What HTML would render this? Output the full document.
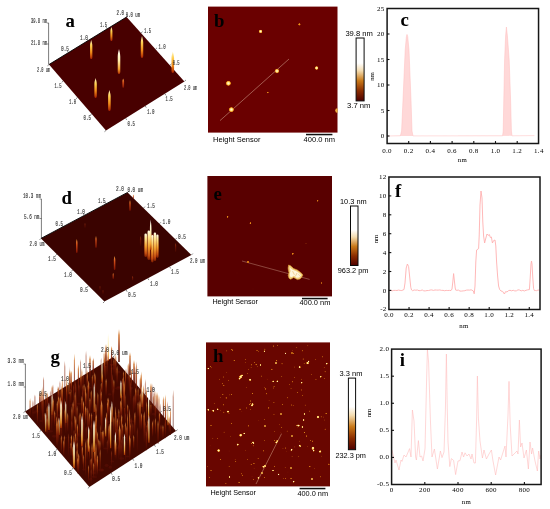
<!DOCTYPE html>
<html lang="en"><head><meta charset="utf-8"><title>AFM height images and line profiles</title>
<style>
html,body{margin:0;padding:0;background:#fff;}
body{width:550px;height:509px;overflow:hidden;}
svg{display:block;}
.m{font-family:"Liberation Mono","DejaVu Sans Mono",monospace;}
.s{font-family:"Liberation Sans","DejaVu Sans",sans-serif;fill:#000;}
.r{font-family:"Liberation Serif","DejaVu Serif",serif;fill:#000;}
.b{font-family:"Liberation Serif","DejaVu Serif",serif;font-weight:bold;fill:#000;}
</style></head><body>
<svg width="550" height="509" viewBox="0 0 550 509">
<defs>
<linearGradient id="sp" x1="0" y1="0" x2="0" y2="1"><stop offset="0" stop-color="#fff6c8"/><stop offset="0.3" stop-color="#ffd050"/><stop offset="0.65" stop-color="#f08a18"/><stop offset="1" stop-color="#a82000"/></linearGradient>
<linearGradient id="sr" x1="0" y1="0" x2="0" y2="1"><stop offset="0" stop-color="#eea040"/><stop offset="0.4" stop-color="#d04c18"/><stop offset="1" stop-color="#7c1000"/></linearGradient>
<linearGradient id="sw" x1="0" y1="0" x2="0" y2="1"><stop offset="0" stop-color="#ffffff"/><stop offset="0.45" stop-color="#fff0b0"/><stop offset="0.8" stop-color="#f0a030"/><stop offset="1" stop-color="#b03000"/></linearGradient>
<linearGradient id="sg" x1="0" y1="0" x2="0" y2="1"><stop offset="0" stop-color="#e8a860"/><stop offset="0.25" stop-color="#c8641e"/><stop offset="0.55" stop-color="#8a2206"/><stop offset="1" stop-color="#480800"/></linearGradient>
<linearGradient id="sd" x1="0" y1="0" x2="0" y2="1"><stop offset="0" stop-color="#b04a20"/><stop offset="0.45" stop-color="#7c1a06"/><stop offset="1" stop-color="#480800"/></linearGradient>
<linearGradient id="sc" x1="0" y1="0" x2="0" y2="1"><stop offset="0" stop-color="#fffbe8"/><stop offset="0.22" stop-color="#ffe48c"/><stop offset="0.55" stop-color="#f0a030"/><stop offset="0.85" stop-color="#c44c10"/><stop offset="1" stop-color="#7a1c00"/></linearGradient>
<linearGradient id="cb" x1="0" y1="0" x2="0" y2="1"><stop offset="0" stop-color="#ffffff"/><stop offset="0.40" stop-color="#ffffff"/><stop offset="0.52" stop-color="#f4dcb0"/><stop offset="0.68" stop-color="#c87818"/><stop offset="0.84" stop-color="#8a2c00"/><stop offset="1" stop-color="#4e0000"/></linearGradient>
<radialGradient id="dt"><stop offset="0" stop-color="#fffbe0"/><stop offset="0.45" stop-color="#ffe080"/><stop offset="0.8" stop-color="#e08a18"/><stop offset="1" stop-color="#b04000" stop-opacity="0.2"/></radialGradient>
<radialGradient id="do"><stop offset="0" stop-color="#f0a020"/><stop offset="0.7" stop-color="#d07010"/><stop offset="1" stop-color="#a03000" stop-opacity="0.1"/></radialGradient>
</defs>
<rect width="550" height="509" fill="#fff"/>
<g id="pa">
<path d="M48.6 23V64.3" stroke="#444" stroke-width="0.7"/>
<path d="M46.8 23h2M46.8 44h2" stroke="#444" stroke-width="0.6"/>
<polygon points="49,64.5 126.6,17 184.4,81.4 106,130.4" fill="#480000"/>
<path d="M49 64.5L126.6 17" stroke="#000" stroke-width="0.9"/>
<path d="M111.4 27 C111.75 28.4 112.41 29.52 112.41 31.2 L112.41 39.38 Q112.41 41 111.4 41 Q110.39 41 110.39 39.38 L110.39 31.2 C110.39 29.52 111.05 28.4 111.4 27 Z" fill="url(#sp)"/>
<path d="M91.2 40 C91.6 41.9 92.35 43.42 92.35 45.7 L92.35 57.16 Q92.35 59 91.2 59 Q90.05 59 90.05 57.16 L90.05 45.7 C90.05 43.42 90.8 41.9 91.2 40 Z" fill="url(#sp)"/>
<path d="M142 36 C142.43 38.2 143.22 39.96 143.22 42.6 L143.22 56.06 Q143.22 58 142 58 Q140.78 58 140.78 56.06 L140.78 42.6 C140.78 39.96 141.57 38.2 142 36 Z" fill="url(#sp)"/>
<path d="M119 49 C119.45 51.5 120.28 53.5 120.28 56.5 L120.28 71.95 Q120.28 74 119 74 Q117.72 74 117.72 71.95 L117.72 56.5 C117.72 53.5 118.55 51.5 119 49 Z" fill="url(#sw)"/>
<path d="M172.8 51.5 C173.25 53.65 174.08 55.37 174.08 57.95 L174.08 70.95 Q174.08 73 172.8 73 Q171.52 73 171.52 70.95 L171.52 57.95 C171.52 55.37 172.35 53.65 172.8 51.5 Z" fill="url(#sp)"/>
<path d="M95.6 78 C96.03 80 96.81 81.6 96.81 84 L96.81 96.06 Q96.81 98 95.6 98 Q94.38 98 94.38 96.06 L94.38 84 C94.38 81.6 95.17 80 95.6 78 Z" fill="url(#sp)"/>
<path d="M123.2 78.5 C123.51 79.45 124.08 80.21 124.08 81.35 L124.08 86.6 Q124.08 88 123.2 88 Q122.32 88 122.32 86.6 L122.32 81.35 C122.32 80.21 122.89 79.45 123.2 78.5 Z" fill="url(#sr)"/>
<path d="M109.4 90 C109.85 92.1 110.68 93.78 110.68 96.3 L110.68 108.95 Q110.68 111 109.4 111 Q108.12 111 108.12 108.95 L108.12 96.3 C108.12 93.78 108.95 92.1 109.4 90 Z" fill="url(#sp)"/>
<path d="M68.4 52.62l-1.04 -1.71M87.8 40.75l-1.04 -1.71M107.2 28.88l-1.04 -1.71" stroke="#333" stroke-width="0.6" fill="none"/>
<path d="M126.6 17l1.49 -1.34M141.05 33.1l1.49 -1.34M155.5 49.2l1.49 -1.34M169.95 65.3l1.49 -1.34M184.4 81.4l1.49 -1.34" stroke="#333" stroke-width="0.6" fill="none"/>
<path d="M49 64.5l-1.51 1.31M63.25 80.97l-1.51 1.31M77.5 97.45l-1.51 1.31M91.75 113.93l-1.51 1.31M106 130.4l-1.51 1.31" stroke="#333" stroke-width="0.6" fill="none"/>
<path d="M125.6 118.15l1.06 1.7M145.2 105.9l1.06 1.7M164.8 93.65l1.06 1.7" stroke="#333" stroke-width="0.6" fill="none"/>
<text class="m" x="31" y="22.68" font-size="7.2" textLength="16" lengthAdjust="spacingAndGlyphs" fill="#2a2a2a" stroke="#2a2a2a" stroke-width="0.12">39.8 nm</text>
<text class="m" x="31" y="44.68" font-size="7.2" textLength="16" lengthAdjust="spacingAndGlyphs" fill="#2a2a2a" stroke="#2a2a2a" stroke-width="0.12">21.8 nm</text>
<text class="m" x="37" y="72.38" font-size="7.2" textLength="13" lengthAdjust="spacingAndGlyphs" fill="#2a2a2a" stroke="#2a2a2a" stroke-width="0.12">2.0 um</text>
<text class="m" x="54.5" y="88.38" font-size="7.2" textLength="7" lengthAdjust="spacingAndGlyphs" fill="#2a2a2a" stroke="#2a2a2a" stroke-width="0.12">1.5</text>
<text class="m" x="69" y="104.38" font-size="7.2" textLength="7" lengthAdjust="spacingAndGlyphs" fill="#2a2a2a" stroke="#2a2a2a" stroke-width="0.12">1.0</text>
<text class="m" x="83.6" y="120.38" font-size="7.2" textLength="7.4" lengthAdjust="spacingAndGlyphs" fill="#2a2a2a" stroke="#2a2a2a" stroke-width="0.12">0.5</text>
<text class="m" x="127.6" y="125.98" font-size="7.2" textLength="7.4" lengthAdjust="spacingAndGlyphs" fill="#2a2a2a" stroke="#2a2a2a" stroke-width="0.12">0.5</text>
<text class="m" x="147" y="114.38" font-size="7.2" textLength="7.5" lengthAdjust="spacingAndGlyphs" fill="#2a2a2a" stroke="#2a2a2a" stroke-width="0.12">1.0</text>
<text class="m" x="165.5" y="101.38" font-size="7.2" textLength="7.2" lengthAdjust="spacingAndGlyphs" fill="#2a2a2a" stroke="#2a2a2a" stroke-width="0.12">1.5</text>
<text class="m" x="184" y="89.98" font-size="7.2" textLength="13" lengthAdjust="spacingAndGlyphs" fill="#2a2a2a" stroke="#2a2a2a" stroke-width="0.12">2.0 um</text>
<text class="m" x="61" y="51.38" font-size="7.2" textLength="8" lengthAdjust="spacingAndGlyphs" fill="#2a2a2a" stroke="#2a2a2a" stroke-width="0.12">0.5</text>
<text class="m" x="80" y="39.98" font-size="7.2" textLength="8" lengthAdjust="spacingAndGlyphs" fill="#2a2a2a" stroke="#2a2a2a" stroke-width="0.12">1.0</text>
<text class="m" x="100" y="27.38" font-size="7.2" textLength="7" lengthAdjust="spacingAndGlyphs" fill="#2a2a2a" stroke="#2a2a2a" stroke-width="0.12">1.5</text>
<text class="m" x="116.4" y="15.38" font-size="7.2" textLength="7.6" lengthAdjust="spacingAndGlyphs" fill="#2a2a2a" stroke="#2a2a2a" stroke-width="0.12">2.0</text>
<text class="m" x="125.8" y="16.78" font-size="7.2" textLength="14.2" lengthAdjust="spacingAndGlyphs" fill="#2a2a2a" stroke="#2a2a2a" stroke-width="0.12">0.0 um</text>
<text class="m" x="144" y="32.78" font-size="7.2" textLength="7" lengthAdjust="spacingAndGlyphs" fill="#2a2a2a" stroke="#2a2a2a" stroke-width="0.12">1.5</text>
<text class="m" x="158.4" y="49.38" font-size="7.2" textLength="7.2" lengthAdjust="spacingAndGlyphs" fill="#2a2a2a" stroke="#2a2a2a" stroke-width="0.12">1.0</text>
<text class="m" x="172.8" y="65.38" font-size="7.2" textLength="6.8" lengthAdjust="spacingAndGlyphs" fill="#2a2a2a" stroke="#2a2a2a" stroke-width="0.12">0.5</text>
<text class="b" x="65.5" y="27.3" font-size="18.8">a</text>
</g>
<g id="pb">
<rect x="208" y="6.6" width="129.5" height="126" fill="#6a0000"/>
<path d="M220 120.6L289 59" stroke="#e8c8b0" stroke-width="0.5" opacity="0.9"/>
<circle cx="260.6" cy="31.4" r="1.9" fill="url(#dt)"/>
<circle cx="299.4" cy="24.4" r="1.4" fill="url(#do)"/>
<circle cx="277" cy="71" r="2.4" fill="url(#dt)"/>
<circle cx="228.4" cy="83.3" r="2.7" fill="url(#dt)"/>
<circle cx="231.4" cy="109.6" r="2.7" fill="url(#dt)"/>
<circle cx="267.8" cy="92.6" r="1" fill="url(#do)"/>
<circle cx="316.6" cy="68" r="2" fill="url(#dt)"/>
<path d="M337.5 108.3a2.2 2.2 0 0 0 0 4.6z" fill="#f0b040"/>
<text class="s" x="213" y="141.6" font-size="7.4" textLength="47.4" lengthAdjust="spacingAndGlyphs">Height Sensor</text>
<rect x="306" y="133.8" width="26.4" height="1.5" fill="#111"/>
<text class="s" x="303.6" y="142" font-size="7.2" textLength="31.4" lengthAdjust="spacingAndGlyphs">400.0 nm</text>
<rect x="356.1" y="38" width="8" height="62.9" fill="url(#cb)" stroke="#0a0a0a" stroke-width="1"/>
<text class="s" x="345.4" y="36.1" font-size="7" textLength="27.5" lengthAdjust="spacingAndGlyphs">39.8 nm</text>
<text class="s" x="347" y="107.6" font-size="7" textLength="23.4" lengthAdjust="spacingAndGlyphs">3.7 nm</text>
<text class="b" x="214" y="27" font-size="18.8">b</text>
</g>
<g id="pc">
<path d="M387 136 L400.4 135.8 L401.6 131 L403 100 L405.2 50 L406.4 36.5 L407 34.4 L407.7 36.5 L409 50 L411 100 L412 131 L413 135.9 L502.6 135.8 L503.2 131 L503.8 100 L504.6 60 L505.6 36 L506.4 27 L507.4 36 L509.2 60 L510.6 100 L511.4 131 L512 135.8 L534.4 135.6" fill="#ffd8d8" stroke="#ffbcbc" stroke-width="0.5" stroke-linejoin="round"/>
<rect x="387.1" y="8.5" width="151.45" height="135" fill="none" stroke="#161616" stroke-width="1.5"/>
<path d="M387.1 136h2.4" stroke="#111" stroke-width="1.1"/>
<text class="r" x="384.6" y="138.31" font-size="7" letter-spacing="0.3" text-anchor="end">0</text>
<path d="M387.1 110.5h2.4" stroke="#111" stroke-width="1.1"/>
<text class="r" x="384.6" y="112.81" font-size="7" letter-spacing="0.3" text-anchor="end">5</text>
<path d="M387.1 85h2.4" stroke="#111" stroke-width="1.1"/>
<text class="r" x="384.6" y="87.31" font-size="7" letter-spacing="0.3" text-anchor="end">10</text>
<path d="M387.1 59.5h2.4" stroke="#111" stroke-width="1.1"/>
<text class="r" x="384.6" y="61.81" font-size="7" letter-spacing="0.3" text-anchor="end">15</text>
<path d="M387.1 34h2.4" stroke="#111" stroke-width="1.1"/>
<text class="r" x="384.6" y="36.31" font-size="7" letter-spacing="0.3" text-anchor="end">20</text>
<text class="r" x="384.6" y="10.81" font-size="7" letter-spacing="0.3" text-anchor="end">25</text>
<text class="r" x="387" y="152.51" font-size="7" letter-spacing="0.3" text-anchor="middle">0.0</text>
<path d="M408.7 143.5v-2.4" stroke="#111" stroke-width="1.1"/>
<text class="r" x="408.7" y="152.51" font-size="7" letter-spacing="0.3" text-anchor="middle">0.2</text>
<path d="M430.4 143.5v-2.4" stroke="#111" stroke-width="1.1"/>
<text class="r" x="430.4" y="152.51" font-size="7" letter-spacing="0.3" text-anchor="middle">0.4</text>
<path d="M452.1 143.5v-2.4" stroke="#111" stroke-width="1.1"/>
<text class="r" x="452.1" y="152.51" font-size="7" letter-spacing="0.3" text-anchor="middle">0.6</text>
<path d="M473.8 143.5v-2.4" stroke="#111" stroke-width="1.1"/>
<text class="r" x="473.8" y="152.51" font-size="7" letter-spacing="0.3" text-anchor="middle">0.8</text>
<path d="M495.5 143.5v-2.4" stroke="#111" stroke-width="1.1"/>
<text class="r" x="495.5" y="152.51" font-size="7" letter-spacing="0.3" text-anchor="middle">1.0</text>
<path d="M517.2 143.5v-2.4" stroke="#111" stroke-width="1.1"/>
<text class="r" x="517.2" y="152.51" font-size="7" letter-spacing="0.3" text-anchor="middle">1.2</text>
<text class="r" x="538.9" y="152.51" font-size="7" letter-spacing="0.3" text-anchor="middle">1.4</text>
<text class="r" x="462.4" y="161.84" font-size="6.8" letter-spacing="0.3" text-anchor="middle">nm</text>
<text class="r" font-size="6.8" text-anchor="middle" transform="translate(373.8 76.5) rotate(-90)">nm</text>
<text class="b" x="400.5" y="26.2" font-size="18.8">c</text>
</g>
<g id="pd">
<path d="M41.4 199V238.2" stroke="#444" stroke-width="0.7"/>
<path d="M39.6 199h2M39.6 218.5h2" stroke="#444" stroke-width="0.6"/>
<polygon points="41,238.4 127.6,192.4 191.4,255 104.4,301.6" fill="#3a0300"/>
<path d="M41 238.4L127.6 192.4" stroke="#000" stroke-width="0.9"/>
<path d="M130 200 C130.25 201.1 130.72 201.98 130.72 203.3 L130.72 209.85 Q130.72 211 130 211 Q129.28 211 129.28 209.85 L129.28 203.3 C129.28 201.98 129.75 201.1 130 200 Z" fill="url(#sr)" opacity="0.9"/>
<path d="M133.4 194.5 C133.57 194.9 133.9 195.22 133.9 195.7 L133.9 197.9 Q133.9 198.5 133.4 198.5 Q132.9 198.5 132.9 197.9 L132.9 195.7 C132.9 195.22 133.23 194.9 133.4 194.5 Z" fill="url(#sr)" opacity="0.8"/>
<path d="M85 223 C85.19 223.5 85.55 223.9 85.55 224.5 L85.55 227.25 Q85.55 228 85 228 Q84.45 228 84.45 227.25 L84.45 224.5 C84.45 223.9 84.81 223.5 85 223 Z" fill="url(#sd)" opacity="0.6"/>
<path d="M76.8 239 C77.07 240.4 77.57 241.52 77.57 243.2 L77.57 251.76 Q77.57 253 76.8 253 Q76.03 253 76.03 251.76 L76.03 243.2 C76.03 241.52 76.53 240.4 76.8 239 Z" fill="url(#sr)"/>
<path d="M96 236 C96.25 237.2 96.72 238.16 96.72 239.6 L96.72 246.85 Q96.72 248 96 248 Q95.28 248 95.28 246.85 L95.28 239.6 C95.28 238.16 95.75 237.2 96 236 Z" fill="url(#sr)" opacity="0.9"/>
<path d="M140.6 236 C140.83 237 141.26 237.8 141.26 239 L141.26 244.94 Q141.26 246 140.6 246 Q139.94 246 139.94 244.94 L139.94 239 C139.94 237.8 140.37 237 140.6 236 Z" fill="url(#sd)" opacity="0.6"/>
<path d="M175.6 243 C175.81 243.9 176.21 244.62 176.21 245.7 L176.21 251.03 Q176.21 252 175.6 252 Q174.99 252 174.99 251.03 L174.99 245.7 C174.99 244.62 175.39 243.9 175.6 243 Z" fill="url(#sd)" opacity="0.7"/>
<path d="M114.6 256 C114.87 257.4 115.37 258.52 115.37 260.2 L115.37 268.76 Q115.37 270 114.6 270 Q113.83 270 113.83 268.76 L113.83 260.2 C113.83 258.52 114.33 257.4 114.6 256 Z" fill="url(#sr)"/>
<path d="M113.2 273 C113.41 273.6 113.81 274.08 113.81 274.8 L113.81 278.1 Q113.81 279 113.2 279 Q112.59 279 112.59 278.1 L112.59 274.8 C112.59 274.08 112.99 273.6 113.2 273 Z" fill="url(#sr)" opacity="0.8"/>
<path d="M132.6 276 C132.79 276.45 133.15 276.81 133.15 277.35 L133.15 279.82 Q133.15 280.5 132.6 280.5 Q132.05 280.5 132.05 279.82 L132.05 277.35 C132.05 276.81 132.41 276.45 132.6 276 Z" fill="url(#sd)" opacity="0.8"/>
<path d="M100 286 C100.17 286.4 100.5 286.72 100.5 287.2 L100.5 289.4 Q100.5 290 100 290 Q99.5 290 99.5 289.4 L99.5 287.2 C99.5 286.72 99.83 286.4 100 286 Z" fill="url(#sd)" opacity="0.6"/>
<path d="M103 290 C103.17 290.4 103.5 290.72 103.5 291.2 L103.5 293.4 Q103.5 294 103 294 Q102.5 294 102.5 293.4 L102.5 291.2 C102.5 290.72 102.83 290.4 103 290 Z" fill="url(#sd)" opacity="0.6"/>
<ellipse cx="151.4" cy="247" rx="7.6" ry="13" fill="#8a1c00" opacity="0.55"/>
<path d="M144.45 255.75V234.75Q144.45 233.5 145.7 233.5Q146.95 233.5 146.95 234.75V255.75Q146.95 257 145.7 257Q144.45 257 144.45 255.75Z" fill="url(#sc)"/>
<path d="M147.55 258.75V231.75Q147.55 230.5 148.8 230.5Q150.05 230.5 150.05 231.75V258.75Q150.05 260 148.8 260Q147.55 260 147.55 258.75Z" fill="url(#sc)"/>
<path d="M151.15 261.35V236.15Q151.15 235 152.3 235Q153.45 235 153.45 236.15V261.35Q153.45 262.5 152.3 262.5Q151.15 262.5 151.15 261.35Z" fill="url(#sc)"/>
<path d="M153.7 259.8V233.7Q153.7 232.5 154.9 232.5Q156.1 232.5 156.1 233.7V259.8Q156.1 261 154.9 261Q153.7 261 153.7 259.8Z" fill="url(#sc)"/>
<path d="M156.25 256.85V235.65Q156.25 234.5 157.4 234.5Q158.55 234.5 158.55 235.65V256.85Q158.55 258 157.4 258Q156.25 258 156.25 256.85Z" fill="url(#sc)"/>
<path d="M150.7 219.4 C150.97 222.46 151.48 224.91 151.48 228.58 L151.48 248.76 Q151.48 250 150.7 250 Q149.92 250 149.92 248.76 L149.92 228.58 C149.92 224.91 150.43 222.46 150.7 219.4 Z" fill="url(#sw)"/>
<path d="M62.65 226.9l-0.94 -1.77M84.3 215.4l-0.94 -1.77M105.95 203.9l-0.94 -1.77" stroke="#333" stroke-width="0.6" fill="none"/>
<path d="M127.6 192.4l1.4 -1.43M143.55 208.05l1.4 -1.43M159.5 223.7l1.4 -1.43M175.45 239.35l1.4 -1.43M191.4 255l1.4 -1.43" stroke="#333" stroke-width="0.6" fill="none"/>
<path d="M41 238.4l-1.41 1.42M56.85 254.2l-1.41 1.42M72.7 270l-1.41 1.42M88.55 285.8l-1.41 1.42M104.4 301.6l-1.41 1.42" stroke="#333" stroke-width="0.6" fill="none"/>
<path d="M126.15 289.95l0.94 1.76M147.9 278.3l0.94 1.76M169.65 266.65l0.94 1.76" stroke="#333" stroke-width="0.6" fill="none"/>
<text class="m" x="23" y="198.38" font-size="7.2" textLength="18" lengthAdjust="spacingAndGlyphs" fill="#2a2a2a" stroke="#2a2a2a" stroke-width="0.12">10.3 nm</text>
<text class="m" x="24" y="218.78" font-size="7.2" textLength="15.4" lengthAdjust="spacingAndGlyphs" fill="#2a2a2a" stroke="#2a2a2a" stroke-width="0.12">5.6 nm</text>
<text class="m" x="29.6" y="245.98" font-size="7.2" textLength="14.8" lengthAdjust="spacingAndGlyphs" fill="#2a2a2a" stroke="#2a2a2a" stroke-width="0.12">2.0 um</text>
<text class="m" x="48" y="261.38" font-size="7.2" textLength="8" lengthAdjust="spacingAndGlyphs" fill="#2a2a2a" stroke="#2a2a2a" stroke-width="0.12">1.5</text>
<text class="m" x="64" y="276.78" font-size="7.2" textLength="8" lengthAdjust="spacingAndGlyphs" fill="#2a2a2a" stroke="#2a2a2a" stroke-width="0.12">1.0</text>
<text class="m" x="80" y="292.38" font-size="7.2" textLength="8" lengthAdjust="spacingAndGlyphs" fill="#2a2a2a" stroke="#2a2a2a" stroke-width="0.12">0.5</text>
<text class="m" x="128" y="297.38" font-size="7.2" textLength="8" lengthAdjust="spacingAndGlyphs" fill="#2a2a2a" stroke="#2a2a2a" stroke-width="0.12">0.5</text>
<text class="m" x="150" y="286.38" font-size="7.2" textLength="8" lengthAdjust="spacingAndGlyphs" fill="#2a2a2a" stroke="#2a2a2a" stroke-width="0.12">1.0</text>
<text class="m" x="171" y="274.38" font-size="7.2" textLength="8" lengthAdjust="spacingAndGlyphs" fill="#2a2a2a" stroke="#2a2a2a" stroke-width="0.12">1.5</text>
<text class="m" x="190" y="263.38" font-size="7.2" textLength="15" lengthAdjust="spacingAndGlyphs" fill="#2a2a2a" stroke="#2a2a2a" stroke-width="0.12">2.0 um</text>
<text class="m" x="55.6" y="225.98" font-size="7.2" textLength="7.4" lengthAdjust="spacingAndGlyphs" fill="#2a2a2a" stroke="#2a2a2a" stroke-width="0.12">0.5</text>
<text class="m" x="77" y="214.38" font-size="7.2" textLength="8" lengthAdjust="spacingAndGlyphs" fill="#2a2a2a" stroke="#2a2a2a" stroke-width="0.12">1.0</text>
<text class="m" x="98" y="202.78" font-size="7.2" textLength="7.6" lengthAdjust="spacingAndGlyphs" fill="#2a2a2a" stroke="#2a2a2a" stroke-width="0.12">1.5</text>
<text class="m" x="116" y="191.38" font-size="7.2" textLength="8" lengthAdjust="spacingAndGlyphs" fill="#2a2a2a" stroke="#2a2a2a" stroke-width="0.12">2.0</text>
<text class="m" x="127.4" y="192.38" font-size="7.2" textLength="15.6" lengthAdjust="spacingAndGlyphs" fill="#2a2a2a" stroke="#2a2a2a" stroke-width="0.12">0.0 um</text>
<text class="m" x="147" y="208.38" font-size="7.2" textLength="8" lengthAdjust="spacingAndGlyphs" fill="#2a2a2a" stroke="#2a2a2a" stroke-width="0.12">1.5</text>
<text class="m" x="162.4" y="223.98" font-size="7.2" textLength="8" lengthAdjust="spacingAndGlyphs" fill="#2a2a2a" stroke="#2a2a2a" stroke-width="0.12">1.0</text>
<text class="m" x="178" y="239.38" font-size="7.2" textLength="8" lengthAdjust="spacingAndGlyphs" fill="#2a2a2a" stroke="#2a2a2a" stroke-width="0.12">0.5</text>
<text class="b" x="61.5" y="204" font-size="18.8">d</text>
</g>
<g id="pe">
<rect x="207.4" y="176" width="124.6" height="120.4" fill="#590000"/>
<path d="M242 261L309.6 279.4" stroke="#e0b8a0" stroke-width="0.5" opacity="0.75"/>
<circle cx="227.6" cy="216.8" r="1.1" fill="url(#do)"/>
<circle cx="250.4" cy="223.2" r="1.1" fill="url(#do)"/>
<circle cx="292.8" cy="253.8" r="1.1" fill="url(#do)"/>
<circle cx="317.7" cy="200.8" r="1" fill="url(#do)" opacity="0.9"/>
<circle cx="248" cy="262" r="1.2" fill="url(#do)"/>
<circle cx="321.6" cy="283" r="0.9" fill="url(#do)" opacity="0.8"/>
<circle cx="306" cy="243.6" r="0.7" fill="url(#do)" opacity="0.4"/>
<circle cx="253" cy="289" r="0.7" fill="url(#do)" opacity="0.4"/>
<circle cx="237" cy="273" r="0.7" fill="url(#do)" opacity="0.5"/>
<path d="M288.6 265 L290.6 265.8 L293.6 268.6 L297.3 270 L300 272 L302.3 274 L302.8 275.2 L301.6 277.2 L300 279 L297.3 279.6 L295.4 278.4 L293.6 277.4 L292 278.6 L290.5 279.2 L289 278.2 L288.2 275.5 L289 272.7 L288.4 270.4 L288.1 268 Z" fill="#f2cf80" stroke="#dc9a2c" stroke-width="0.6" stroke-linejoin="round"/>
<path d="M289.6 267.4 L292.6 269.8 L296.4 271.2 L299.4 273.2 L301 275.2 L299.2 277.4 L296.6 277.8 L294 275.8 L291.6 277.2 L290 276.6 L289.8 273.6 L290.6 271 Z" fill="#fff6dc"/>
<path d="M292.6 271.2 l1.8 3.6 M297 273 l-1.6 3.4 M298.4 274.4l1.4 1.2" stroke="#e0a642" stroke-width="0.45" fill="none"/>
<text class="s" x="212.4" y="304.4" font-size="7.2" textLength="45.6" lengthAdjust="spacingAndGlyphs">Height Sensor</text>
<rect x="302" y="297.8" width="25.6" height="1.5" fill="#111"/>
<text class="s" x="299.4" y="305.2" font-size="7" textLength="31" lengthAdjust="spacingAndGlyphs">400.0 nm</text>
<rect x="350.5" y="206" width="7.5" height="59.5" fill="url(#cb)" stroke="#0a0a0a" stroke-width="1"/>
<text class="s" x="340" y="204.3" font-size="6.8" textLength="26.7" lengthAdjust="spacingAndGlyphs">10.3 nm</text>
<text class="s" x="337.7" y="272.6" font-size="6.8" textLength="30.7" lengthAdjust="spacingAndGlyphs">963.2 pm</text>
<text class="b" x="213.6" y="200" font-size="18.8">e</text>
</g>
<g id="pf">
<polyline points="389,290.35 390.6,290.46 392.2,290.82 393.8,290.37 395.4,290.41 397,290.49 398.6,290.08 400.2,290.41 401.8,290.53 404,289.5 405,283 406.2,268 407.4,264 408.6,266.5 409.8,278 410.8,287.5 411.6,290 412.6,290.69 414.2,289.99 415.8,290.2 417.4,289.99 419,290.71 420.6,290.59 422.2,289.94 423.8,290.88 425.4,290.86 427,290.55 428.6,290.52 430.2,290.06 431.8,289.92 433.4,290.43 435,289.96 436.6,290.09 438.2,290.14 439.8,289.93 441.4,290.36 443,290.34 444.6,290.74 446.2,290.42 447.8,290.54 449.4,290.4 451,290.56 452,289 452.8,282 453.6,273.6 454.4,281 455.2,288 455.8,290.2 456.8,290.34 458.4,290.09 460,291.1 461.6,291.09 463.2,290.88 464.8,290.69 466.4,290.14 468,290.02 469.6,290.1 471.2,289.8 473.4,291 474.2,293.8 475,286 475.8,262 476.6,250 478.6,248.6 479.2,236 480,205 481,191 482,198 482.8,222 483.6,236 484.6,243 485.6,239 487,234 488.2,235.4 489.4,234.6 490.4,237.6 491.4,237 492.4,243 493.6,240.6 495,240 495.8,246 496.6,262 497.6,276 498.6,286 499.6,289.4 501,291 502.6,291.4 504.4,294 505.6,291.6 507,292 508.4,290.72 510,290.28 511.6,290.82 513.2,290.26 514.8,290.95 516.4,290.82 518,289.8 519.6,290.05 521.2,290.89 522.8,290.36 524.4,290.98 526,290.28 527.6,289.89 529.4,289.6 530.2,278 531,264 531.5,261 532,264 532.8,278 533.6,288.6 534.4,290.6 535.2,290.53 536.5,290.68 537.8,290.17 539.1,289.99" fill="none" stroke="#ffb0b0" stroke-width="0.9" stroke-linejoin="round"/>
<rect x="388.9" y="177" width="151.1" height="132.5" fill="none" stroke="#161616" stroke-width="1.5"/>
<text class="r" x="386.6" y="311.01" font-size="7" letter-spacing="0.3" text-anchor="end">-2</text>
<path d="M388.9 290.4h2.4" stroke="#111" stroke-width="1.1"/>
<text class="r" x="386.6" y="292.71" font-size="7" letter-spacing="0.3" text-anchor="end">0</text>
<path d="M388.9 271.5h2.4" stroke="#111" stroke-width="1.1"/>
<text class="r" x="386.6" y="273.81" font-size="7" letter-spacing="0.3" text-anchor="end">2</text>
<path d="M388.9 252.6h2.4" stroke="#111" stroke-width="1.1"/>
<text class="r" x="386.6" y="254.91" font-size="7" letter-spacing="0.3" text-anchor="end">4</text>
<path d="M388.9 233.7h2.4" stroke="#111" stroke-width="1.1"/>
<text class="r" x="386.6" y="236.01" font-size="7" letter-spacing="0.3" text-anchor="end">6</text>
<path d="M388.9 214.8h2.4" stroke="#111" stroke-width="1.1"/>
<text class="r" x="386.6" y="217.11" font-size="7" letter-spacing="0.3" text-anchor="end">8</text>
<path d="M388.9 195.9h2.4" stroke="#111" stroke-width="1.1"/>
<text class="r" x="386.6" y="198.21" font-size="7" letter-spacing="0.3" text-anchor="end">10</text>
<text class="r" x="386.6" y="179.31" font-size="7" letter-spacing="0.3" text-anchor="end">12</text>
<text class="r" x="389" y="317.21" font-size="7" letter-spacing="0.3" text-anchor="middle">0.0</text>
<path d="M409.04 309.5v-2.4" stroke="#111" stroke-width="1.1"/>
<text class="r" x="409.04" y="317.21" font-size="7" letter-spacing="0.3" text-anchor="middle">0.2</text>
<path d="M429.08 309.5v-2.4" stroke="#111" stroke-width="1.1"/>
<text class="r" x="429.08" y="317.21" font-size="7" letter-spacing="0.3" text-anchor="middle">0.4</text>
<path d="M449.12 309.5v-2.4" stroke="#111" stroke-width="1.1"/>
<text class="r" x="449.12" y="317.21" font-size="7" letter-spacing="0.3" text-anchor="middle">0.6</text>
<path d="M469.16 309.5v-2.4" stroke="#111" stroke-width="1.1"/>
<text class="r" x="469.16" y="317.21" font-size="7" letter-spacing="0.3" text-anchor="middle">0.8</text>
<path d="M489.2 309.5v-2.4" stroke="#111" stroke-width="1.1"/>
<text class="r" x="489.2" y="317.21" font-size="7" letter-spacing="0.3" text-anchor="middle">1.0</text>
<path d="M509.24 309.5v-2.4" stroke="#111" stroke-width="1.1"/>
<text class="r" x="509.24" y="317.21" font-size="7" letter-spacing="0.3" text-anchor="middle">1.2</text>
<path d="M529.28 309.5v-2.4" stroke="#111" stroke-width="1.1"/>
<text class="r" x="529.28" y="317.21" font-size="7" letter-spacing="0.3" text-anchor="middle">1.4</text>
<text class="r" x="464" y="328.44" font-size="6.8" letter-spacing="0.3" text-anchor="middle">nm</text>
<text class="r" font-size="6.8" text-anchor="middle" transform="translate(378 239) rotate(-90)">nm</text>
<text class="b" x="395.1" y="196.6" font-size="18.8">f</text>
</g>
<g id="pg">
<path d="M25.4 364V411" stroke="#444" stroke-width="0.7"/>
<path d="M23.6 364h2M23.6 387h2" stroke="#444" stroke-width="0.6"/>
<polygon points="25,411.4 113,357 176,431 89.4,487" fill="#430800"/>
<ellipse cx="54.27" cy="436.3" rx="2.33" ry="1.4" fill="#6a1408" opacity="0.35"/>
<ellipse cx="102.15" cy="470.01" rx="1.74" ry="1.58" fill="#6a1408" opacity="0.35"/>
<ellipse cx="115.27" cy="440.94" rx="2.61" ry="0.92" fill="#6a1408" opacity="0.35"/>
<ellipse cx="118.88" cy="416.16" rx="2.41" ry="0.93" fill="#6a1408" opacity="0.35"/>
<ellipse cx="88.79" cy="387.75" rx="2.83" ry="0.91" fill="#6a1408" opacity="0.35"/>
<ellipse cx="36.15" cy="411.43" rx="2.68" ry="1.11" fill="#6a1408" opacity="0.35"/>
<ellipse cx="137.07" cy="394.72" rx="2.42" ry="1.01" fill="#6a1408" opacity="0.35"/>
<ellipse cx="75.42" cy="461.13" rx="1.92" ry="1.36" fill="#6a1408" opacity="0.35"/>
<ellipse cx="41.28" cy="421.05" rx="2.28" ry="1.06" fill="#6a1408" opacity="0.35"/>
<ellipse cx="94.48" cy="476.94" rx="2.7" ry="1.11" fill="#6a1408" opacity="0.35"/>
<ellipse cx="116.04" cy="448.08" rx="2.5" ry="1.06" fill="#6a1408" opacity="0.35"/>
<ellipse cx="79.28" cy="403.77" rx="2.7" ry="1.08" fill="#6a1408" opacity="0.35"/>
<ellipse cx="76.4" cy="406.16" rx="1.64" ry="1.05" fill="#6a1408" opacity="0.35"/>
<ellipse cx="109.9" cy="425.03" rx="2.4" ry="1.03" fill="#6a1408" opacity="0.35"/>
<ellipse cx="34.14" cy="412.67" rx="2.01" ry="0.96" fill="#6a1408" opacity="0.35"/>
<ellipse cx="84.99" cy="439.98" rx="2.64" ry="1.28" fill="#6a1408" opacity="0.35"/>
<ellipse cx="132.38" cy="421.46" rx="2.28" ry="1.14" fill="#6a1408" opacity="0.35"/>
<ellipse cx="50.4" cy="431.29" rx="2.69" ry="1.2" fill="#6a1408" opacity="0.35"/>
<ellipse cx="112.97" cy="368.53" rx="2.37" ry="1.3" fill="#6a1408" opacity="0.35"/>
<ellipse cx="64.35" cy="437.7" rx="3" ry="0.93" fill="#6a1408" opacity="0.35"/>
<ellipse cx="131.31" cy="387.95" rx="1.68" ry="1.2" fill="#6a1408" opacity="0.35"/>
<ellipse cx="77.68" cy="434.19" rx="2.89" ry="1.13" fill="#6a1408" opacity="0.35"/>
<ellipse cx="70.54" cy="390.17" rx="1.51" ry="1.37" fill="#6a1408" opacity="0.35"/>
<ellipse cx="160.67" cy="427.83" rx="1.57" ry="1.34" fill="#6a1408" opacity="0.35"/>
<ellipse cx="86.22" cy="408.73" rx="1.95" ry="1.04" fill="#6a1408" opacity="0.35"/>
<ellipse cx="88.61" cy="387.4" rx="1.63" ry="1.57" fill="#6a1408" opacity="0.35"/>
<ellipse cx="111.58" cy="364.8" rx="1.79" ry="0.87" fill="#6a1408" opacity="0.35"/>
<ellipse cx="119.68" cy="438.83" rx="2.65" ry="1.21" fill="#6a1408" opacity="0.35"/>
<ellipse cx="72.88" cy="454.57" rx="2.51" ry="1.21" fill="#6a1408" opacity="0.35"/>
<ellipse cx="90.82" cy="479.2" rx="1.6" ry="1.34" fill="#6a1408" opacity="0.35"/>
<ellipse cx="121.76" cy="458.48" rx="2.57" ry="1.25" fill="#6a1408" opacity="0.35"/>
<ellipse cx="91.13" cy="415.63" rx="2.4" ry="0.82" fill="#6a1408" opacity="0.35"/>
<ellipse cx="109.63" cy="394.35" rx="1.89" ry="1.18" fill="#6a1408" opacity="0.35"/>
<ellipse cx="73" cy="411.35" rx="2.48" ry="1.39" fill="#6a1408" opacity="0.35"/>
<ellipse cx="127.5" cy="456.53" rx="1.8" ry="1.07" fill="#6a1408" opacity="0.35"/>
<ellipse cx="49.95" cy="402.9" rx="2.38" ry="1.29" fill="#6a1408" opacity="0.35"/>
<ellipse cx="56.53" cy="419.78" rx="1.65" ry="0.94" fill="#6a1408" opacity="0.35"/>
<ellipse cx="79.75" cy="435.43" rx="2.83" ry="1.25" fill="#6a1408" opacity="0.35"/>
<ellipse cx="84.84" cy="413.67" rx="1.56" ry="1.39" fill="#6a1408" opacity="0.35"/>
<ellipse cx="105.37" cy="448.4" rx="2.59" ry="1.02" fill="#6a1408" opacity="0.35"/>
<ellipse cx="59.22" cy="415.58" rx="1.8" ry="1.28" fill="#6a1408" opacity="0.35"/>
<ellipse cx="130.39" cy="420.35" rx="1.66" ry="1.41" fill="#6a1408" opacity="0.35"/>
<ellipse cx="89.11" cy="426.97" rx="2.25" ry="1.15" fill="#6a1408" opacity="0.35"/>
<ellipse cx="72.65" cy="405.04" rx="2.47" ry="1.37" fill="#6a1408" opacity="0.35"/>
<ellipse cx="101.03" cy="470" rx="2.84" ry="1.44" fill="#6a1408" opacity="0.35"/>
<ellipse cx="153.64" cy="414.16" rx="1.71" ry="1.42" fill="#6a1408" opacity="0.35"/>
<ellipse cx="93.66" cy="472.76" rx="2.39" ry="1.56" fill="#6a1408" opacity="0.35"/>
<ellipse cx="119.13" cy="387.03" rx="2.86" ry="1.15" fill="#6a1408" opacity="0.35"/>
<ellipse cx="53.32" cy="410.65" rx="2.74" ry="1.14" fill="#6a1408" opacity="0.35"/>
<ellipse cx="84.31" cy="411.17" rx="2.89" ry="1" fill="#6a1408" opacity="0.35"/>
<ellipse cx="111.58" cy="364.8" rx="1.98" ry="1.11" fill="#6a1408" opacity="0.35"/>
<ellipse cx="110.34" cy="467.13" rx="1.63" ry="1.51" fill="#6a1408" opacity="0.35"/>
<ellipse cx="60.2" cy="417.78" rx="2.91" ry="0.98" fill="#6a1408" opacity="0.35"/>
<ellipse cx="112.35" cy="461.4" rx="1.95" ry="0.97" fill="#6a1408" opacity="0.35"/>
<ellipse cx="109.22" cy="421.93" rx="2.1" ry="1.21" fill="#6a1408" opacity="0.35"/>
<ellipse cx="117.91" cy="388.37" rx="2.9" ry="1.4" fill="#6a1408" opacity="0.35"/>
<ellipse cx="84.02" cy="469.53" rx="1.88" ry="0.96" fill="#6a1408" opacity="0.35"/>
<ellipse cx="117.69" cy="371.97" rx="2.86" ry="1.53" fill="#6a1408" opacity="0.35"/>
<ellipse cx="71.18" cy="447.23" rx="2.14" ry="0.84" fill="#6a1408" opacity="0.35"/>
<ellipse cx="106.62" cy="465.35" rx="1.93" ry="1.56" fill="#6a1408" opacity="0.35"/>
<path d="M108.31 332.32L108.84 337.47V360.94H107.78V337.47Z" fill="url(#sw)" opacity="0.9"/>
<path d="M111.59 346L112.17 348.73V361.14H111.01V348.73Z" fill="url(#sg)" opacity="0.82"/>
<path d="M104.1 351.63L104.56 354.56V367.9H103.64V354.56Z" fill="url(#sg)" opacity="0.82"/>
<path d="M104.35 357.5L104.88 360.38V373.54H103.82V360.38Z" fill="url(#sg)" opacity="0.82"/>
<path d="M113.97 358.6L114.39 361.29V373.54H113.55V361.29Z" fill="url(#sg)" opacity="0.82"/>
<path d="M93.19 358.55L93.77 361.41V374.43H92.61V361.41Z" fill="url(#sg)" opacity="0.82"/>
<path d="M101.15 357.65L101.61 360.78V375.04H100.69V360.78Z" fill="url(#sd)" opacity="0.55"/>
<path d="M107.08 353.49L107.55 357.39V375.16H106.61V357.39Z" fill="url(#sg)" opacity="0.82"/>
<path d="M115.78 353.87L116.31 357.96V376.62H115.25V357.96Z" fill="url(#sg)" opacity="0.82"/>
<path d="M104.49 355.55L105.01 359.4V376.97H103.98V359.4Z" fill="url(#sg)" opacity="0.82"/>
<path d="M114.85 355.75L115.28 359.58V377.03H114.41V359.58Z" fill="url(#sd)" opacity="0.55"/>
<path d="M80.48 359.11L80.9 362.85V379.92H80.06V362.85Z" fill="url(#sd)" opacity="0.55"/>
<path d="M86.05 350.54L86.54 355.92V380.38H85.57V355.92Z" fill="url(#sd)" opacity="0.55"/>
<path d="M129.42 364.63L129.82 367.48V380.45H129.02V367.48Z" fill="url(#sd)" opacity="0.55"/>
<path d="M128.28 362.72L128.85 365.94V380.65H127.7V365.94Z" fill="url(#sg)" opacity="0.82"/>
<path d="M93.26 357.5L93.71 361.74V381.08H92.81V361.74Z" fill="url(#sd)" opacity="0.55"/>
<path d="M105.7 350.39L106.13 356.04V381.78H105.27V356.04Z" fill="url(#sg)" opacity="0.82"/>
<path d="M101.99 359.71L102.54 363.72V381.99H101.44V363.72Z" fill="url(#sw)" opacity="0.9"/>
<path d="M126.02 368.15L126.43 370.85V383.16H125.6V370.85Z" fill="url(#sd)" opacity="0.55"/>
<path d="M111.32 350.69L111.77 356.59V383.48H110.87V356.59Z" fill="url(#sd)" opacity="0.55"/>
<path d="M87.13 370L87.64 372.47V383.7H86.62V372.47Z" fill="url(#sg)" opacity="0.82"/>
<path d="M134.89 365.55L135.35 368.85V383.9H134.42V368.85Z" fill="url(#sd)" opacity="0.55"/>
<path d="M117.09 365.85L117.55 369.14V384.11H116.62V369.14Z" fill="url(#sg)" opacity="0.82"/>
<path d="M123.41 370.97L123.87 373.59V385.52H122.96V373.59Z" fill="url(#sg)" opacity="0.82"/>
<path d="M131.5 368.59L131.99 371.9V386.96H131V371.9Z" fill="url(#sg)" opacity="0.82"/>
<path d="M136.08 370.69L136.6 373.73V387.55H135.57V373.73Z" fill="url(#sd)" opacity="0.55"/>
<path d="M71.32 370.55L71.81 373.62V387.62H70.83V373.62Z" fill="url(#sg)" opacity="0.82"/>
<path d="M83.36 374.19L83.88 376.62V387.72H82.85V376.62Z" fill="url(#sd)" opacity="0.55"/>
<path d="M94.36 372.29L94.85 375.13V388.1H93.86V375.13Z" fill="url(#sg)" opacity="0.82"/>
<path d="M128.21 374.68L128.63 377.21V388.77H127.79V377.21Z" fill="url(#sd)" opacity="0.55"/>
<path d="M92.31 374.66L92.74 377.4V389.91H91.87V377.4Z" fill="url(#sg)" opacity="0.82"/>
<path d="M80.81 373.72L81.38 376.66V390.05H80.24V376.66Z" fill="url(#sg)" opacity="0.82"/>
<path d="M87.26 373.93L87.75 376.88V390.3H86.76V376.88Z" fill="url(#sg)" opacity="0.82"/>
<path d="M74.39 353.62L74.87 360.34V390.98H73.91V360.34Z" fill="url(#sg)" opacity="0.82"/>
<path d="M81.86 368.37L82.36 372.45V391.04H81.35V372.45Z" fill="url(#sg)" opacity="0.82"/>
<path d="M78.4 364.16L78.97 369.04V391.31H77.83V369.04Z" fill="url(#sg)" opacity="0.82"/>
<path d="M134.28 371.67L134.74 375.34V392.1H133.82V375.34Z" fill="url(#sd)" opacity="0.55"/>
<path d="M111.58 364.07L112.03 369.15V392.3H111.13V369.15Z" fill="url(#sd)" opacity="0.55"/>
<path d="M122.25 378.13L122.71 380.72V392.51H121.8V380.72Z" fill="url(#sd)" opacity="0.55"/>
<path d="M125.57 369.28L125.97 373.5V392.71H125.17V373.5Z" fill="url(#sg)" opacity="0.82"/>
<path d="M123.2 376.73L123.71 379.61V392.71H122.69V379.61Z" fill="url(#sg)" opacity="0.82"/>
<path d="M102.48 373.28L102.98 376.8V392.84H101.98V376.8Z" fill="url(#sg)" opacity="0.82"/>
<path d="M136.59 361.19L137.06 366.93V393.05H136.11V366.93Z" fill="url(#sd)" opacity="0.55"/>
<path d="M71.46 377.72L71.95 380.48V393.08H70.97V380.48Z" fill="url(#sg)" opacity="0.82"/>
<path d="M140.18 377.03L140.68 379.99V393.45H139.69V379.99Z" fill="url(#sg)" opacity="0.82"/>
<path d="M113.87 379.49L114.41 382.12V394.13H113.33V382.12Z" fill="url(#sg)" opacity="0.82"/>
<path d="M69.25 370.52L69.78 374.78V394.19H68.72V374.78Z" fill="url(#sw)" opacity="0.9"/>
<path d="M64.78 360.85L65.33 367.11V395.62H64.23V367.11Z" fill="url(#sd)" opacity="0.55"/>
<path d="M122.56 379.53L122.98 382.46V395.82H122.15V382.46Z" fill="url(#sd)" opacity="0.55"/>
<path d="M106.12 378.48L106.7 381.61V395.9H105.55V381.61Z" fill="url(#sg)" opacity="0.82"/>
<path d="M59.93 380.69L60.36 383.47V396.15H59.5V383.47Z" fill="url(#sd)" opacity="0.55"/>
<path d="M129.84 363.57L130.4 369.45V396.24H129.28V369.45Z" fill="url(#sg)" opacity="0.82"/>
<path d="M101.25 382.09L101.7 384.68V396.47H100.8V384.68Z" fill="url(#sg)" opacity="0.82"/>
<path d="M95.3 373.62L95.72 377.88V397.29H94.89V377.88Z" fill="url(#sg)" opacity="0.82"/>
<path d="M112.51 374.12L112.99 378.35V397.6H112.03V378.35Z" fill="url(#sd)" opacity="0.55"/>
<path d="M84.06 383.94L84.63 386.42V397.72H83.49V386.42Z" fill="url(#sg)" opacity="0.82"/>
<path d="M88.67 380.44L89.24 383.59V397.94H88.1V383.59Z" fill="url(#sg)" opacity="0.82"/>
<path d="M78.98 383.99L79.51 386.5V397.95H78.45V386.5Z" fill="url(#sd)" opacity="0.55"/>
<path d="M120.92 380.37L121.56 383.58V398.19H120.27V383.58Z" fill="url(#sw)" opacity="0.9"/>
<path d="M141.39 371.2L141.8 376.06V398.22H140.98V376.06Z" fill="url(#sg)" opacity="0.82"/>
<path d="M66.69 382.87L67.17 385.84V399.36H66.22V385.84Z" fill="url(#sg)" opacity="0.82"/>
<path d="M82.43 384.81L82.84 387.48V399.66H82.01V387.48Z" fill="url(#sd)" opacity="0.55"/>
<path d="M88.22 383.39L88.77 386.43V400.28H87.67V386.43Z" fill="url(#sg)" opacity="0.82"/>
<path d="M130.64 381.52L131.11 384.97V400.7H130.17V384.97Z" fill="url(#sd)" opacity="0.55"/>
<path d="M43.57 376.17L44.08 380.59V400.73H43.05V380.59Z" fill="url(#sd)" opacity="0.55"/>
<path d="M52.1 385.11L52.66 387.95V400.91H51.54V387.95Z" fill="url(#sg)" opacity="0.82"/>
<path d="M58.46 386.45L59.06 389.25V402.04H57.86V389.25Z" fill="url(#sg)" opacity="0.82"/>
<path d="M141.53 385.68L142.06 388.63V402.06H140.99V388.63Z" fill="url(#sg)" opacity="0.82"/>
<path d="M140.86 374.31L141.43 379.35V402.31H140.28V379.35Z" fill="url(#sg)" opacity="0.82"/>
<path d="M75.37 380.16L75.85 384.17V402.39H74.89V384.17Z" fill="url(#sd)" opacity="0.55"/>
<path d="M53.02 384.25L53.43 387.55V402.59H52.61V387.55Z" fill="url(#sd)" opacity="0.55"/>
<path d="M58 386.04L58.53 389.17V403.43H57.46V389.17Z" fill="url(#sd)" opacity="0.55"/>
<path d="M70.82 388.38L71.24 391.1V403.49H70.4V391.1Z" fill="url(#sg)" opacity="0.82"/>
<path d="M136.22 364.24L136.63 371.48V404.48H135.8V371.48Z" fill="url(#sg)" opacity="0.82"/>
<path d="M73.61 384.23L74.13 387.91V404.63H73.09V387.91Z" fill="url(#sd)" opacity="0.55"/>
<path d="M130.9 385.78L131.34 389.27V405.16H130.45V389.27Z" fill="url(#sd)" opacity="0.55"/>
<path d="M100.36 387.42L100.86 390.63V405.25H99.86V390.63Z" fill="url(#sd)" opacity="0.55"/>
<path d="M138.12 387.66L138.52 390.83V405.3H137.71V390.83Z" fill="url(#sg)" opacity="0.82"/>
<path d="M50.32 390.25L50.75 392.97V405.39H49.89V392.97Z" fill="url(#sd)" opacity="0.55"/>
<path d="M135.69 387.87L136.23 391.08V405.72H135.15V391.08Z" fill="url(#sg)" opacity="0.82"/>
<path d="M113.16 387.89L113.57 391.14V405.93H112.76V391.14Z" fill="url(#sd)" opacity="0.55"/>
<path d="M145.36 379.04L145.84 383.91V406.09H144.88V383.91Z" fill="url(#sd)" opacity="0.55"/>
<path d="M142.2 385.03L142.84 388.96V406.88H141.55V388.96Z" fill="url(#sw)" opacity="0.9"/>
<path d="M47.65 392.1L48.09 394.77V406.9H47.2V394.77Z" fill="url(#sg)" opacity="0.82"/>
<path d="M91.22 389.91L91.76 393.04V407.31H90.67V393.04Z" fill="url(#sg)" opacity="0.82"/>
<path d="M101.19 391.27L101.74 394.18V407.41H100.64V394.18Z" fill="url(#sg)" opacity="0.82"/>
<path d="M146.38 388.39L146.9 391.83V407.51H145.86V391.83Z" fill="url(#sg)" opacity="0.82"/>
<path d="M140.34 392.7L140.9 395.43V407.87H139.79V395.43Z" fill="url(#sg)" opacity="0.82"/>
<path d="M45.86 391.29L46.4 394.34V408.23H45.32V394.34Z" fill="url(#sg)" opacity="0.82"/>
<path d="M62.46 387.14L62.86 391V408.58H62.05V391Z" fill="url(#sg)" opacity="0.82"/>
<path d="M69.64 366.52L70.07 374.17V409.02H69.21V374.17Z" fill="url(#sd)" opacity="0.55"/>
<path d="M39.7 394.66L40.18 397.27V409.14H39.21V397.27Z" fill="url(#sd)" opacity="0.55"/>
<path d="M34.92 394.39L35.46 397.07V409.27H34.37V397.07Z" fill="url(#sd)" opacity="0.55"/>
<path d="M134.19 393.95L134.62 396.74V409.49H133.76V396.74Z" fill="url(#sd)" opacity="0.55"/>
<path d="M85.49 385.9L86 390.18V409.67H84.97V390.18Z" fill="url(#sg)" opacity="0.82"/>
<path d="M121.69 393.36L122.11 396.34V409.93H121.26V396.34Z" fill="url(#sg)" opacity="0.82"/>
<path d="M85.85 391.31L86.42 394.73V410.29H85.28V394.73Z" fill="url(#sg)" opacity="0.82"/>
<path d="M153.31 394.97L153.8 397.79V410.6H152.82V397.79Z" fill="url(#sg)" opacity="0.82"/>
<path d="M61.34 385.23L61.84 389.8V410.62H60.83V389.8Z" fill="url(#sg)" opacity="0.82"/>
<path d="M154.24 390.69L154.74 394.31V410.76H153.74V394.31Z" fill="url(#sd)" opacity="0.55"/>
<path d="M152.86 383.51L153.28 388.42V410.8H152.44V388.42Z" fill="url(#sd)" opacity="0.55"/>
<path d="M75.86 382.93L76.37 388V411.14H75.35V388Z" fill="url(#sd)" opacity="0.55"/>
<path d="M135.03 395.97L135.55 398.7V411.14H134.51V398.7Z" fill="url(#sd)" opacity="0.55"/>
<path d="M95.47 391.01L96 394.63V411.15H94.94V394.63Z" fill="url(#sd)" opacity="0.55"/>
<path d="M124.28 384.66L124.73 389.45V411.26H123.82V389.45Z" fill="url(#sg)" opacity="0.82"/>
<path d="M60.51 396.29L60.96 399.01V411.43H60.07V399.01Z" fill="url(#sg)" opacity="0.82"/>
<path d="M107.8 397.64L108.24 400.17V411.67H107.37V400.17Z" fill="url(#sg)" opacity="0.82"/>
<path d="M58.5 395.94L59.08 398.77V411.69H57.92V398.77Z" fill="url(#sg)" opacity="0.82"/>
<path d="M89.93 397.66L90.42 400.19V411.71H89.44V400.19Z" fill="url(#sg)" opacity="0.82"/>
<path d="M94.21 382.42L94.77 387.74V411.97H93.66V387.74Z" fill="url(#sw)" opacity="0.9"/>
<path d="M59.97 397.14L60.47 399.84V412.17H59.47V399.84Z" fill="url(#sg)" opacity="0.82"/>
<path d="M124.31 385.99L124.84 390.7V412.18H123.77V390.7Z" fill="url(#sg)" opacity="0.82"/>
<path d="M97.87 392.19L98.33 395.82V412.35H97.4V395.82Z" fill="url(#sg)" opacity="0.82"/>
<path d="M82.43 389.57L82.88 393.71V412.57H81.98V393.71Z" fill="url(#sd)" opacity="0.55"/>
<path d="M143.68 384.47L144.23 389.55V412.67H143.13V389.55Z" fill="url(#sg)" opacity="0.82"/>
<path d="M142.27 393.74L142.83 397.15V412.67H141.72V397.15Z" fill="url(#sg)" opacity="0.82"/>
<path d="M41.33 388.87L41.79 393.27V413.3H40.87V393.27Z" fill="url(#sg)" opacity="0.82"/>
<path d="M66.8 375.23L67.21 382.12V413.49H66.38V382.12Z" fill="url(#sg)" opacity="0.82"/>
<path d="M60.03 389.05L60.57 393.46V413.57H59.49V393.46Z" fill="url(#sd)" opacity="0.55"/>
<path d="M120.68 400.54L121.23 403.07V414.59H120.14V403.07Z" fill="url(#sg)" opacity="0.82"/>
<path d="M133.32 395.57L133.81 399.01V414.69H132.83V399.01Z" fill="url(#sd)" opacity="0.55"/>
<path d="M52.1 392.96L52.66 396.9V414.86H51.54V396.9Z" fill="url(#sw)" opacity="0.9"/>
<path d="M81.93 395.91L82.52 399.37V415.12H81.34V399.37Z" fill="url(#sg)" opacity="0.82"/>
<path d="M73.63 399.79L74.09 402.57V415.2H73.16V402.57Z" fill="url(#sd)" opacity="0.55"/>
<path d="M108.6 397.44L109.04 400.7V415.57H108.15V400.7Z" fill="url(#sg)" opacity="0.82"/>
<path d="M53.55 398.12L53.97 401.26V415.58H53.13V401.26Z" fill="url(#sg)" opacity="0.82"/>
<path d="M150.91 401.64L151.38 404.21V415.94H150.44V404.21Z" fill="url(#sg)" opacity="0.82"/>
<path d="M100.51 389.88L101 394.63V416.26H100.02V394.63Z" fill="url(#sd)" opacity="0.55"/>
<path d="M30.09 398.07L30.56 401.37V416.37H29.61V401.37Z" fill="url(#sg)" opacity="0.82"/>
<path d="M32.93 400.1L33.47 403.11V416.79H32.39V403.11Z" fill="url(#sd)" opacity="0.55"/>
<path d="M107.52 401.66L108.05 404.5V417.46H106.99V404.5Z" fill="url(#sg)" opacity="0.82"/>
<path d="M138.06 401.72L138.55 404.56V417.5H137.56V404.56Z" fill="url(#sg)" opacity="0.82"/>
<path d="M155.47 403.72L155.97 406.23V417.68H154.98V406.23Z" fill="url(#sd)" opacity="0.55"/>
<path d="M127.69 404.31L128.21 406.74V417.82H127.17V406.74Z" fill="url(#sg)" opacity="0.82"/>
<path d="M163.39 396.05L163.91 400V417.99H162.87V400Z" fill="url(#sg)" opacity="0.82"/>
<path d="M75.1 391.68L75.6 396.43V418.08H74.61V396.43Z" fill="url(#sg)" opacity="0.82"/>
<path d="M83.57 401.43L84.07 404.43V418.1H83.06V404.43Z" fill="url(#sg)" opacity="0.82"/>
<path d="M93.86 393.8L94.33 398.18V418.15H93.38V398.18Z" fill="url(#sd)" opacity="0.55"/>
<path d="M148.63 395.82L149.25 399.89V418.44H148V399.89Z" fill="url(#sw)" opacity="0.9"/>
<path d="M95.85 403.21L96.29 405.95V418.45H95.41V405.95Z" fill="url(#sg)" opacity="0.82"/>
<path d="M73.03 401.98L73.58 404.99V418.67H72.47V404.99Z" fill="url(#sg)" opacity="0.82"/>
<path d="M62.32 376.26L62.78 383.91V418.76H61.86V383.91Z" fill="url(#sg)" opacity="0.82"/>
<path d="M121.82 405.47L122.34 407.91V419.02H121.29V407.91Z" fill="url(#sd)" opacity="0.55"/>
<path d="M109.23 406.12L109.64 408.66V420.27H108.82V408.66Z" fill="url(#sd)" opacity="0.55"/>
<path d="M85.87 407.11L86.37 409.58V420.81H85.38V409.58Z" fill="url(#sg)" opacity="0.82"/>
<path d="M43.4 394.94L43.87 399.64V421.02H42.93V399.64Z" fill="url(#sd)" opacity="0.55"/>
<path d="M111.58 404.07L112.09 407.15V421.18H111.07V407.15Z" fill="url(#sd)" opacity="0.55"/>
<path d="M88.07 390.06L88.5 395.69V421.36H87.64V395.69Z" fill="url(#sd)" opacity="0.55"/>
<path d="M83.48 400.6L83.93 404.41V421.8H83.03V404.41Z" fill="url(#sg)" opacity="0.82"/>
<path d="M111.9 401.12L112.42 404.87V421.96H111.38V404.87Z" fill="url(#sw)" opacity="0.9"/>
<path d="M158.94 394.54L159.46 399.52V422.2H158.43V399.52Z" fill="url(#sg)" opacity="0.82"/>
<path d="M124.83 391.92L125.35 397.44V422.61H124.31V397.44Z" fill="url(#sg)" opacity="0.82"/>
<path d="M167.36 401.12L167.76 405.01V422.73H166.96V405.01Z" fill="url(#sd)" opacity="0.55"/>
<path d="M146.64 401.31L147.08 405.17V422.75H146.21V405.17Z" fill="url(#sg)" opacity="0.82"/>
<path d="M77.05 406.06L77.49 409.08V422.83H76.61V409.08Z" fill="url(#sg)" opacity="0.82"/>
<path d="M57.29 400.26L57.88 404.36V423.04H56.7V404.36Z" fill="url(#sg)" opacity="0.82"/>
<path d="M65.72 401L66.29 404.97V423.07H65.15V404.97Z" fill="url(#sw)" opacity="0.9"/>
<path d="M52.87 399.42L53.38 403.7V423.22H52.36V403.7Z" fill="url(#sg)" opacity="0.82"/>
<path d="M64.55 397.96L64.99 402.51V423.23H64.1V402.51Z" fill="url(#sd)" opacity="0.55"/>
<path d="M60.18 397.24L60.71 401.92V423.25H59.65V401.92Z" fill="url(#sg)" opacity="0.82"/>
<path d="M47.39 405.1L47.92 408.38V423.32H46.87V408.38Z" fill="url(#sd)" opacity="0.55"/>
<path d="M121.11 399.62L121.65 403.92V423.51H120.58V403.92Z" fill="url(#sg)" opacity="0.82"/>
<path d="M89.73 401.24L90.13 405.26V423.59H89.33V405.26Z" fill="url(#sd)" opacity="0.55"/>
<path d="M37.37 402.7L37.85 406.49V423.73H36.88V406.49Z" fill="url(#sg)" opacity="0.82"/>
<path d="M160.25 403.37L160.73 407.05V423.8H159.78V407.05Z" fill="url(#sd)" opacity="0.55"/>
<path d="M155.15 390.13L155.56 396.25V424.14H154.74V396.25Z" fill="url(#sg)" opacity="0.82"/>
<path d="M85.57 405.74L86.13 409.07V424.27H85.01V409.07Z" fill="url(#sg)" opacity="0.82"/>
<path d="M42.7 385.94L43.17 392.85V424.31H42.24V392.85Z" fill="url(#sg)" opacity="0.82"/>
<path d="M165.31 394.36L165.77 399.78V424.49H164.85V399.78Z" fill="url(#sg)" opacity="0.82"/>
<path d="M168.03 406.48L168.62 409.84V425.15H167.43V409.84Z" fill="url(#sw)" opacity="0.9"/>
<path d="M135.47 411.53L135.96 413.99V425.2H134.99V413.99Z" fill="url(#sd)" opacity="0.55"/>
<path d="M110.38 407.02L110.85 410.33V425.43H109.9V410.33Z" fill="url(#sd)" opacity="0.55"/>
<path d="M60.64 411.9L61.21 414.43V425.93H60.07V414.43Z" fill="url(#sg)" opacity="0.82"/>
<path d="M54.64 411.32L55.11 413.96V425.98H54.16V413.96Z" fill="url(#sd)" opacity="0.55"/>
<path d="M54.73 410.44L55.2 413.25V426.06H54.26V413.25Z" fill="url(#sg)" opacity="0.82"/>
<path d="M82.61 412.3L83.02 414.8V426.18H82.2V414.8Z" fill="url(#sg)" opacity="0.82"/>
<path d="M112.31 405.76L112.82 409.56V426.88H111.8V409.56Z" fill="url(#sg)" opacity="0.82"/>
<path d="M96 406.32L96.47 410.06V427.07H95.53V410.06Z" fill="url(#sg)" opacity="0.82"/>
<path d="M106.74 412.17L107.22 414.89V427.31H106.26V414.89Z" fill="url(#sd)" opacity="0.55"/>
<path d="M89.56 412.43L90.03 415.11V427.33H89.09V415.11Z" fill="url(#sg)" opacity="0.82"/>
<path d="M100.57 404.44L100.97 408.58V427.41H100.17V408.58Z" fill="url(#sd)" opacity="0.55"/>
<path d="M44.8 412.72L45.2 415.37V427.44H44.39V415.37Z" fill="url(#sg)" opacity="0.82"/>
<path d="M80.34 412.55L80.77 415.27V427.64H79.91V415.27Z" fill="url(#sg)" opacity="0.82"/>
<path d="M125.37 413.07L125.79 415.71V427.71H124.96V415.71Z" fill="url(#sd)" opacity="0.55"/>
<path d="M65.02 408.66L65.59 412.09V427.76H64.45V412.09Z" fill="url(#sg)" opacity="0.82"/>
<path d="M159.47 412.19L159.99 415.01V427.86H158.96V415.01Z" fill="url(#sg)" opacity="0.82"/>
<path d="M118.88 408.67L119.33 412.18V428.17H118.44V412.18Z" fill="url(#sg)" opacity="0.82"/>
<path d="M173.22 389.99L173.73 396.95V428.68H172.71V396.95Z" fill="url(#sd)" opacity="0.55"/>
<path d="M141.39 413.02L141.92 415.91V429.1H140.86V415.91Z" fill="url(#sg)" opacity="0.82"/>
<path d="M91.62 412.58L92.04 415.58V429.26H91.21V415.58Z" fill="url(#sg)" opacity="0.82"/>
<path d="M74.84 415.52L75.39 418.01V429.35H74.29V418.01Z" fill="url(#sg)" opacity="0.82"/>
<path d="M121.82 414.54L122.27 417.22V429.46H121.38V417.22Z" fill="url(#sg)" opacity="0.82"/>
<path d="M48.94 402.69L49.59 407.61V429.99H48.29V407.61Z" fill="url(#sw)" opacity="0.9"/>
<path d="M87.8 407.36L88.22 411.45V430.08H87.37V411.45Z" fill="url(#sg)" opacity="0.82"/>
<path d="M76.03 394.76L76.48 401.18V430.45H75.59V401.18Z" fill="url(#sd)" opacity="0.55"/>
<path d="M71.9 406.32L72.35 410.72V430.77H71.45V410.72Z" fill="url(#sg)" opacity="0.82"/>
<path d="M96.15 414.36L96.72 417.37V431.06H95.58V417.37Z" fill="url(#sg)" opacity="0.82"/>
<path d="M51.72 410.92L52.24 414.56V431.12H51.19V414.56Z" fill="url(#sd)" opacity="0.55"/>
<path d="M67.7 412.49L68.21 415.91V431.49H67.18V415.91Z" fill="url(#sg)" opacity="0.82"/>
<path d="M56.69 416.24L57.12 419V431.57H56.26V419Z" fill="url(#sg)" opacity="0.82"/>
<path d="M45.82 412.51L46.38 415.97V431.69H45.25V415.97Z" fill="url(#sw)" opacity="0.9"/>
<path d="M169.23 416.06L169.77 418.99V432.37H168.69V418.99Z" fill="url(#sg)" opacity="0.82"/>
<path d="M143.42 412.78L143.83 416.39V432.84H143.01V416.39Z" fill="url(#sd)" opacity="0.55"/>
<path d="M47.13 405.13L47.71 410.15V432.99H46.55V410.15Z" fill="url(#sg)" opacity="0.82"/>
<path d="M65.81 419.56L66.34 422.03V433.27H65.28V422.03Z" fill="url(#sd)" opacity="0.55"/>
<path d="M147.99 419.73L148.58 422.24V433.68H147.4V422.24Z" fill="url(#sg)" opacity="0.82"/>
<path d="M106.43 412.17L106.97 416.09V433.96H105.89V416.09Z" fill="url(#sg)" opacity="0.82"/>
<path d="M47.05 417.8L47.58 420.8V434.42H46.53V420.8Z" fill="url(#sg)" opacity="0.82"/>
<path d="M165.53 400.4L166.12 406.53V434.44H164.93V406.53Z" fill="url(#sg)" opacity="0.82"/>
<path d="M155.33 418.09L155.78 421.05V434.56H154.88V421.05Z" fill="url(#sg)" opacity="0.82"/>
<path d="M113.9 416.36L114.36 419.66V434.71H113.44V419.66Z" fill="url(#sg)" opacity="0.82"/>
<path d="M75.31 419.27L75.73 422.06V434.74H74.88V422.06Z" fill="url(#sg)" opacity="0.82"/>
<path d="M59.05 417.85L59.57 420.93V434.98H58.52V420.93Z" fill="url(#sw)" opacity="0.9"/>
<path d="M153.14 418.93L153.66 421.83V435.03H152.62V421.83Z" fill="url(#sd)" opacity="0.55"/>
<path d="M170.53 407.41L170.94 412.39V435.1H170.11V412.39Z" fill="url(#sg)" opacity="0.82"/>
<path d="M110.91 416.25L111.46 419.65V435.18H110.36V419.65Z" fill="url(#sg)" opacity="0.82"/>
<path d="M134.78 412.37L135.26 416.54V435.5H134.3V416.54Z" fill="url(#sg)" opacity="0.82"/>
<path d="M117.33 418L117.9 421.15V435.53H116.75V421.15Z" fill="url(#sg)" opacity="0.82"/>
<path d="M71.81 420.82L72.32 423.56V436.05H71.3V423.56Z" fill="url(#sd)" opacity="0.55"/>
<path d="M105.69 416.95L106.29 420.48V436.57H105.09V420.48Z" fill="url(#sw)" opacity="0.9"/>
<path d="M145.17 421.4L145.7 424.14V436.58H144.64V424.14Z" fill="url(#sd)" opacity="0.55"/>
<path d="M79.26 412.49L79.67 416.83V436.61H78.85V416.83Z" fill="url(#sg)" opacity="0.82"/>
<path d="M94.53 421.55L94.97 424.27V436.62H94.09V424.27Z" fill="url(#sd)" opacity="0.55"/>
<path d="M152.42 421.01L152.9 423.84V436.75H151.95V423.84Z" fill="url(#sg)" opacity="0.82"/>
<path d="M165.19 421.37L165.65 424.42V438.3H164.73V424.42Z" fill="url(#sd)" opacity="0.55"/>
<path d="M56.4 422.46L56.9 425.32V438.34H55.9V425.32Z" fill="url(#sd)" opacity="0.55"/>
<path d="M160.97 424.18L161.5 426.86V439.04H160.44V426.86Z" fill="url(#sd)" opacity="0.55"/>
<path d="M162.96 424.94L163.51 427.49V439.1H162.41V427.49Z" fill="url(#sg)" opacity="0.82"/>
<path d="M132.83 422.65L133.37 425.64V439.27H132.29V425.64Z" fill="url(#sd)" opacity="0.55"/>
<path d="M91.33 422.47L91.83 425.5V439.3H90.83V425.5Z" fill="url(#sd)" opacity="0.55"/>
<path d="M122.65 423.23L123.12 426.14V439.39H122.18V426.14Z" fill="url(#sg)" opacity="0.82"/>
<path d="M121.38 416.11L121.89 420.3V439.39H120.88V420.3Z" fill="url(#sg)" opacity="0.82"/>
<path d="M96.15 415.35L96.7 419.69V439.46H95.6V419.69Z" fill="url(#sg)" opacity="0.82"/>
<path d="M61.63 401.08L62.19 408.01V439.6H61.07V408.01Z" fill="url(#sg)" opacity="0.82"/>
<path d="M147.25 423.35L147.73 426.32V439.84H146.78V426.32Z" fill="url(#sg)" opacity="0.82"/>
<path d="M60.15 424.58L60.61 427.34V439.89H59.7V427.34Z" fill="url(#sd)" opacity="0.55"/>
<path d="M125.42 421.99L125.94 425.24V440.07H124.89V425.24Z" fill="url(#sg)" opacity="0.82"/>
<path d="M95.57 425.64L96 428.24V440.12H95.13V428.24Z" fill="url(#sd)" opacity="0.55"/>
<path d="M106.89 415.31L107.42 419.86V440.59H106.36V419.86Z" fill="url(#sd)" opacity="0.55"/>
<path d="M130.46 423.22L130.86 426.36V440.66H130.06V426.36Z" fill="url(#sg)" opacity="0.82"/>
<path d="M88.17 415.29L88.67 419.88V440.79H87.67V419.88Z" fill="url(#sd)" opacity="0.55"/>
<path d="M82.98 418.98L83.45 422.99V441.25H82.51V422.99Z" fill="url(#sd)" opacity="0.55"/>
<path d="M75.9 416.19L76.34 420.75V441.56H75.46V420.75Z" fill="url(#sg)" opacity="0.82"/>
<path d="M86.16 426.26L86.65 429.01V441.57H85.68V429.01Z" fill="url(#sd)" opacity="0.55"/>
<path d="M119.42 419.46L119.89 423.53V442.1H118.95V423.53Z" fill="url(#sd)" opacity="0.55"/>
<path d="M58.41 417.61L59.01 422.05V442.3H57.82V422.05Z" fill="url(#sg)" opacity="0.82"/>
<path d="M144.24 410.92L144.82 416.6V442.48H143.66V416.6Z" fill="url(#sg)" opacity="0.82"/>
<path d="M131.11 417.05L131.59 421.67V442.72H130.62V421.67Z" fill="url(#sd)" opacity="0.55"/>
<path d="M116.42 428.38L116.95 430.96V442.73H115.89V430.96Z" fill="url(#sd)" opacity="0.55"/>
<path d="M148.87 414.43L149.5 419.53V442.76H148.24V419.53Z" fill="url(#sw)" opacity="0.9"/>
<path d="M147.7 419.75L148.13 423.94V443.03H147.28V423.94Z" fill="url(#sd)" opacity="0.55"/>
<path d="M158.05 420.27L158.62 424.43V443.38H157.49V424.43Z" fill="url(#sg)" opacity="0.82"/>
<path d="M74.09 429.51L74.62 432.01V443.39H73.57V432.01Z" fill="url(#sd)" opacity="0.55"/>
<path d="M126.94 425.39L127.54 428.68V443.71H126.34V428.68Z" fill="url(#sg)" opacity="0.82"/>
<path d="M109.57 423.35L110.12 427.16V444.49H109.01V427.16Z" fill="url(#sg)" opacity="0.82"/>
<path d="M104.8 426.18L105.26 429.49V444.58H104.34V429.49Z" fill="url(#sd)" opacity="0.55"/>
<path d="M115.57 406.22L116.01 413.16V444.78H115.13V413.16Z" fill="url(#sg)" opacity="0.82"/>
<path d="M77.49 423.74L78.02 427.53V444.82H76.96V427.53Z" fill="url(#sg)" opacity="0.82"/>
<path d="M127.51 413.44L127.95 419.12V444.97H127.07V419.12Z" fill="url(#sg)" opacity="0.82"/>
<path d="M102.63 429.88L103.18 432.78V446.01H102.07V432.78Z" fill="url(#sg)" opacity="0.82"/>
<path d="M95.57 419.94L96.08 424.9V447.52H95.05V424.9Z" fill="url(#sg)" opacity="0.82"/>
<path d="M100.99 424.58L101.55 428.73V447.66H100.42V428.73Z" fill="url(#sg)" opacity="0.82"/>
<path d="M146.12 428.84L146.57 432.29V447.97H145.66V432.29Z" fill="url(#sd)" opacity="0.55"/>
<path d="M116.53 412.75L116.98 419.09V447.99H116.09V419.09Z" fill="url(#sd)" opacity="0.55"/>
<path d="M75.5 432.8L76.08 435.56V448.13H74.92V435.56Z" fill="url(#sg)" opacity="0.82"/>
<path d="M110.63 405.73L111.22 413.38V448.23H110.03V413.38Z" fill="url(#sw)" opacity="0.9"/>
<path d="M103.2 430.11L103.68 433.41V448.4H102.72V433.41Z" fill="url(#sg)" opacity="0.82"/>
<path d="M133.71 434.93L134.22 437.38V448.53H133.2V437.38Z" fill="url(#sg)" opacity="0.82"/>
<path d="M71.33 434.79L71.82 437.34V448.92H70.84V437.34Z" fill="url(#sg)" opacity="0.82"/>
<path d="M120.79 428.28L121.28 432.05V449.22H120.29V432.05Z" fill="url(#sd)" opacity="0.55"/>
<path d="M129.62 408.56L130.12 415.9V449.32H129.11V415.9Z" fill="url(#sg)" opacity="0.82"/>
<path d="M71.53 435.74L71.98 438.25V449.66H71.07V438.25Z" fill="url(#sg)" opacity="0.82"/>
<path d="M83.61 418.63L84.16 424.27V449.94H83.07V424.27Z" fill="url(#sd)" opacity="0.55"/>
<path d="M146.45 431.15L146.99 434.57V450.16H145.92V434.57Z" fill="url(#sd)" opacity="0.55"/>
<path d="M108.86 425.21L109.42 429.74V450.38H108.31V429.74Z" fill="url(#sg)" opacity="0.82"/>
<path d="M97.42 431.62L97.87 435.02V450.5H96.96V435.02Z" fill="url(#sg)" opacity="0.82"/>
<path d="M64.32 435.14L64.76 437.93V450.62H63.88V437.93Z" fill="url(#sg)" opacity="0.82"/>
<path d="M76.86 436.65L77.37 439.2V450.78H76.35V439.2Z" fill="url(#sd)" opacity="0.55"/>
<path d="M88.68 425.9L89.31 430.54V451.67H88.06V430.54Z" fill="url(#sw)" opacity="0.9"/>
<path d="M96.07 427.23L96.6 431.68V451.95H95.54V431.68Z" fill="url(#sg)" opacity="0.82"/>
<path d="M137.29 427.31L137.73 431.83V452.4H136.86V431.83Z" fill="url(#sd)" opacity="0.55"/>
<path d="M98.81 439.03L99.35 441.47V452.61H98.26V441.47Z" fill="url(#sg)" opacity="0.82"/>
<path d="M61.33 435.29L61.83 438.43V452.74H60.82V438.43Z" fill="url(#sg)" opacity="0.82"/>
<path d="M129.55 435.26L130.02 438.46V453.06H129.07V438.46Z" fill="url(#sg)" opacity="0.82"/>
<path d="M107.31 439.54L107.8 442.16V454.07H106.82V442.16Z" fill="url(#sd)" opacity="0.55"/>
<path d="M121.68 438.88L122.15 441.65V454.26H121.22V441.65Z" fill="url(#sd)" opacity="0.55"/>
<path d="M89.55 428.05L90.08 432.79V454.38H89.02V432.79Z" fill="url(#sg)" opacity="0.82"/>
<path d="M115.39 431.77L116 435.93V454.89H114.78V435.93Z" fill="url(#sw)" opacity="0.9"/>
<path d="M124.5 433.48L125.14 437.35V454.97H123.85V437.35Z" fill="url(#sw)" opacity="0.9"/>
<path d="M130.19 437.78L130.62 440.96V455.43H129.77V440.96Z" fill="url(#sg)" opacity="0.82"/>
<path d="M63.74 440.11L64.25 442.88V455.53H63.22V442.88Z" fill="url(#sg)" opacity="0.82"/>
<path d="M71.06 442.04L71.65 444.49V455.64H70.47V444.49Z" fill="url(#sg)" opacity="0.82"/>
<path d="M68.53 433.19L69.03 437.28V455.91H68.03V437.28Z" fill="url(#sd)" opacity="0.55"/>
<path d="M122.64 435.05L123.13 438.98V456.91H122.16V438.98Z" fill="url(#sd)" opacity="0.55"/>
<path d="M81.56 429.6L82.13 434.56V457.11H80.99V434.56Z" fill="url(#sg)" opacity="0.82"/>
<path d="M99.99 440.53L100.39 443.53V457.16H99.58V443.53Z" fill="url(#sg)" opacity="0.82"/>
<path d="M77.16 442.33L77.72 445.12V457.82H76.61V445.12Z" fill="url(#sg)" opacity="0.82"/>
<path d="M114.96 439.61L115.48 442.9V457.85H114.43V442.9Z" fill="url(#sg)" opacity="0.82"/>
<path d="M115.99 441.1L116.51 444.35V459.14H115.47V444.35Z" fill="url(#sg)" opacity="0.82"/>
<path d="M73.87 435.37L74.34 439.66V459.18H73.41V439.66Z" fill="url(#sg)" opacity="0.82"/>
<path d="M118.78 444.11L119.28 446.85V459.36H118.29V446.85Z" fill="url(#sd)" opacity="0.55"/>
<path d="M129.68 434.32L130.11 438.87V459.58H129.26V438.87Z" fill="url(#sg)" opacity="0.82"/>
<path d="M87.27 437.61L87.77 441.58V459.67H86.76V441.58Z" fill="url(#sg)" opacity="0.82"/>
<path d="M89.41 444.68L89.86 447.39V459.73H88.96V447.39Z" fill="url(#sg)" opacity="0.82"/>
<path d="M125.56 440.46L126.1 444.19V461.16H125.02V444.19Z" fill="url(#sd)" opacity="0.55"/>
<path d="M120.92 443.6L121.45 447.06V462.86H120.4V447.06Z" fill="url(#sd)" opacity="0.55"/>
<path d="M72.79 446.26L73.28 449.52V464.38H72.29V449.52Z" fill="url(#sg)" opacity="0.82"/>
<path d="M82.48 445.58L83.03 449.04V464.78H81.92V449.04Z" fill="url(#sg)" opacity="0.82"/>
<path d="M94.77 448.98L95.25 451.83V464.84H94.29V451.83Z" fill="url(#sg)" opacity="0.82"/>
<path d="M111.53 450.46L112.01 453.27V466.08H111.05V453.27Z" fill="url(#sd)" opacity="0.55"/>
<path d="M94.99 450.85L95.43 453.82V467.37H94.56V453.82Z" fill="url(#sg)" opacity="0.82"/>
<path d="M78.76 453.82L79.29 456.37V468.03H78.24V456.37Z" fill="url(#sd)" opacity="0.55"/>
<path d="M97.47 455.04L98.02 457.5V468.72H96.91V457.5Z" fill="url(#sg)" opacity="0.82"/>
<path d="M77.1 449.15L77.66 452.69V468.82H76.55V452.69Z" fill="url(#sg)" opacity="0.82"/>
<path d="M95.93 457.38L96.35 459.94V471.62H95.52V459.94Z" fill="url(#sg)" opacity="0.82"/>
<path d="M91.28 458.04L91.85 460.49V471.64H90.72V460.49Z" fill="url(#sg)" opacity="0.82"/>
<path d="M83.66 454.5L84.06 457.61V471.78H83.26V457.61Z" fill="url(#sg)" opacity="0.82"/>
<path d="M94.38 447.09L94.89 451.57V471.96H93.87V451.57Z" fill="url(#sg)" opacity="0.82"/>
<path d="M77.83 457.8L78.33 460.41V472.34H77.34V460.41Z" fill="url(#sg)" opacity="0.82"/>
<path d="M100.16 449.31L100.58 453.5V472.6H99.75V453.5Z" fill="url(#sg)" opacity="0.82"/>
<path d="M90.17 458.46L90.64 461.09V473.04H89.71V461.09Z" fill="url(#sd)" opacity="0.55"/>
<path d="M78.14 457.49L78.72 460.36V473.43H77.56V460.36Z" fill="url(#sg)" opacity="0.82"/>
<path d="M78.69 453.01L79.22 456.74V473.75H78.17V456.74Z" fill="url(#sg)" opacity="0.82"/>
<path d="M97.45 458.19L97.92 461.15V474.66H96.99V461.15Z" fill="url(#sg)" opacity="0.82"/>
<path d="M92.05 442.18L92.61 448.15V475.33H91.49V448.15Z" fill="url(#sg)" opacity="0.82"/>
<path d="M85.63 439.94L86.1 446.32V475.38H85.16V446.32Z" fill="url(#sg)" opacity="0.82"/>
<path d="M95.95 442.85L96.53 448.94V476.7H95.37V448.94Z" fill="url(#sg)" opacity="0.82"/>
<path d="M93.68 462.62L94.16 465.52V478.68H93.2V465.52Z" fill="url(#sg)" opacity="0.82"/>
<path d="M88.55 464.93L88.97 467.84V481.11H88.14V467.84Z" fill="url(#sg)" opacity="0.82"/>
<path d="M91.15 469.01L91.7 471.71V484.02H90.61V471.71Z" fill="url(#sd)" opacity="0.55"/>
<path d="M119 329L119.75 334.94V362H118.25V334.94Z" fill="url(#sg)" opacity="0.95"/>
<path d="M106 344L106.65 347.96V366H105.35V347.96Z" fill="url(#sg)" opacity="0.95"/>
<path d="M90 355L90.65 359.14V378H89.35V359.14Z" fill="url(#sg)" opacity="0.95"/>
<path d="M130 352L130.65 356.14V375H129.35V356.14Z" fill="url(#sg)" opacity="0.95"/>
<path d="M134 360L134.7 364.32V384H133.3V364.32Z" fill="url(#sg)" opacity="0.95"/>
<path d="M151 383L151.7 386.96V405H150.3V386.96Z" fill="url(#sg)" opacity="0.95"/>
<path d="M157 392L157.65 395.96V414H156.35V395.96Z" fill="url(#sg)" opacity="0.95"/>
<path d="M74 441L74.85 445.86V468H73.15V445.86Z" fill="url(#sw)" opacity="0.95"/>
<path d="M94 420L94.85 425.76V452H93.15V425.76Z" fill="url(#sw)" opacity="0.95"/>
<path d="M61 400L61.8 405.04V428H60.2V405.04Z" fill="url(#sw)" opacity="0.95"/>
<path d="M40 392L40.55 394.16V404H39.45V394.16Z" fill="url(#sg)" opacity="0.95"/>
<path d="M70 370L70.65 373.96V392H69.35V373.96Z" fill="url(#sg)" opacity="0.95"/>
<path d="M119.6 425L120.5 430.58V456H118.7V430.58Z" fill="url(#sg)" opacity="0.95"/>
<path d="M101.6 400L102.45 405.76V432H100.75V405.76Z" fill="url(#sg)" opacity="0.95"/>
<path d="M82 415L82.8 420.58V446H81.2V420.58Z" fill="url(#sw)" opacity="0.95"/>
<path d="M57 420L57.75 424.68V446H56.25V424.68Z" fill="url(#sg)" opacity="0.95"/>
<path d="M124 380L124.75 385.04V408H123.25V385.04Z" fill="url(#sg)" opacity="0.95"/>
<path d="M140 400L140.75 405.4V430H139.25V405.4Z" fill="url(#sg)" opacity="0.95"/>
<path d="M47 397.8l-1.05 -1.7M69 384.2l-1.05 -1.7M91 370.6l-1.05 -1.7" stroke="#333" stroke-width="0.6" fill="none"/>
<path d="M113 357l1.52 -1.3M128.75 375.5l1.52 -1.3M144.5 394l1.52 -1.3M160.25 412.5l1.52 -1.3M176 431l1.52 -1.3" stroke="#333" stroke-width="0.6" fill="none"/>
<path d="M25 411.4l-1.52 1.3M41.1 430.3l-1.52 1.3M57.2 449.2l-1.52 1.3M73.3 468.1l-1.52 1.3M89.4 487l-1.52 1.3" stroke="#333" stroke-width="0.6" fill="none"/>
<path d="M111.05 473l1.09 1.68M132.7 459l1.09 1.68M154.35 445l1.09 1.68" stroke="#333" stroke-width="0.6" fill="none"/>
<text class="m" x="7.6" y="363.38" font-size="7.2" textLength="16.4" lengthAdjust="spacingAndGlyphs" fill="#2a2a2a" stroke="#2a2a2a" stroke-width="0.12">3.3 nm</text>
<text class="m" x="7.6" y="386.38" font-size="7.2" textLength="16.4" lengthAdjust="spacingAndGlyphs" fill="#2a2a2a" stroke="#2a2a2a" stroke-width="0.12">1.8 nm</text>
<text class="m" x="13" y="419.38" font-size="7.2" textLength="15" lengthAdjust="spacingAndGlyphs" fill="#2a2a2a" stroke="#2a2a2a" stroke-width="0.12">2.0 um</text>
<text class="m" x="32" y="438.38" font-size="7.2" textLength="8" lengthAdjust="spacingAndGlyphs" fill="#2a2a2a" stroke="#2a2a2a" stroke-width="0.12">1.5</text>
<text class="m" x="48" y="456.38" font-size="7.2" textLength="8.4" lengthAdjust="spacingAndGlyphs" fill="#2a2a2a" stroke="#2a2a2a" stroke-width="0.12">1.0</text>
<text class="m" x="64" y="475.38" font-size="7.2" textLength="8" lengthAdjust="spacingAndGlyphs" fill="#2a2a2a" stroke="#2a2a2a" stroke-width="0.12">0.5</text>
<text class="m" x="112" y="481.38" font-size="7.2" textLength="8.4" lengthAdjust="spacingAndGlyphs" fill="#2a2a2a" stroke="#2a2a2a" stroke-width="0.12">0.5</text>
<text class="m" x="134.4" y="467.98" font-size="7.2" textLength="8" lengthAdjust="spacingAndGlyphs" fill="#2a2a2a" stroke="#2a2a2a" stroke-width="0.12">1.0</text>
<text class="m" x="156" y="453.98" font-size="7.2" textLength="8" lengthAdjust="spacingAndGlyphs" fill="#2a2a2a" stroke="#2a2a2a" stroke-width="0.12">1.5</text>
<text class="m" x="174" y="440.38" font-size="7.2" textLength="15.4" lengthAdjust="spacingAndGlyphs" fill="#2a2a2a" stroke="#2a2a2a" stroke-width="0.12">2.0 um</text>
<text class="m" x="39" y="396.38" font-size="7.2" textLength="8" lengthAdjust="spacingAndGlyphs" fill="#2a2a2a" stroke="#2a2a2a" stroke-width="0.12">0.5</text>
<text class="m" x="61" y="381.38" font-size="7.2" textLength="8" lengthAdjust="spacingAndGlyphs" fill="#2a2a2a" stroke="#2a2a2a" stroke-width="0.12">1.0</text>
<text class="m" x="83" y="367.98" font-size="7.2" textLength="8" lengthAdjust="spacingAndGlyphs" fill="#2a2a2a" stroke="#2a2a2a" stroke-width="0.12">1.5</text>
<text class="m" x="101" y="352.38" font-size="7.2" textLength="8" lengthAdjust="spacingAndGlyphs" fill="#2a2a2a" stroke="#2a2a2a" stroke-width="0.12">2.0</text>
<text class="m" x="111" y="355.38" font-size="7.2" textLength="16.6" lengthAdjust="spacingAndGlyphs" fill="#2a2a2a" stroke="#2a2a2a" stroke-width="0.12">0.0 um</text>
<text class="m" x="131" y="374.38" font-size="7.2" textLength="8" lengthAdjust="spacingAndGlyphs" fill="#2a2a2a" stroke="#2a2a2a" stroke-width="0.12">1.5</text>
<text class="m" x="146.4" y="392.38" font-size="7.2" textLength="8.6" lengthAdjust="spacingAndGlyphs" fill="#2a2a2a" stroke="#2a2a2a" stroke-width="0.12">1.0</text>
<text class="m" x="163" y="411.38" font-size="7.2" textLength="8" lengthAdjust="spacingAndGlyphs" fill="#2a2a2a" stroke="#2a2a2a" stroke-width="0.12">0.5</text>
<text class="b" x="50.6" y="362.6" font-size="18.8">g</text>
</g>
<g id="ph">
<rect x="206" y="342.4" width="124" height="144" fill="#690600"/>
<path d="M256 484L281.6 433.6" stroke="#e8c0a0" stroke-width="0.5" opacity="0.85"/>
<circle cx="282.99" cy="448.59" r="0.6" fill="url(#do)" opacity="0.81"/>
<circle cx="301.67" cy="379.12" r="0.6" fill="url(#do)" opacity="0.85"/>
<circle cx="220.81" cy="410.14" r="0.7" fill="url(#do)" opacity="0.56"/>
<circle cx="219.44" cy="379.16" r="0.7" fill="url(#do)" opacity="0.57"/>
<circle cx="229.21" cy="466.31" r="0.9" fill="url(#do)" opacity="0.44"/>
<circle cx="304.25" cy="363.57" r="0.9" fill="url(#do)" opacity="0.42"/>
<circle cx="207.22" cy="466.87" r="0.7" fill="url(#do)" opacity="0.78"/>
<circle cx="324.14" cy="367.39" r="0.7" fill="url(#do)" opacity="0.51"/>
<circle cx="324.3" cy="420.03" r="0.7" fill="url(#do)" opacity="0.45"/>
<circle cx="325.16" cy="371.76" r="0.9" fill="url(#do)" opacity="0.51"/>
<circle cx="251.07" cy="367.4" r="0.7" fill="url(#do)" opacity="0.5"/>
<circle cx="247.49" cy="459.25" r="0.6" fill="url(#do)" opacity="0.68"/>
<circle cx="293.34" cy="353.31" r="0.8" fill="url(#do)" opacity="0.8"/>
<circle cx="265.65" cy="388.53" r="0.9" fill="url(#do)" opacity="0.61"/>
<circle cx="228.49" cy="380.12" r="0.6" fill="url(#do)" opacity="0.87"/>
<circle cx="250.63" cy="401.01" r="0.9" fill="url(#do)" opacity="0.55"/>
<circle cx="277.58" cy="345.28" r="0.6" fill="url(#do)" opacity="0.74"/>
<circle cx="283.09" cy="478.57" r="0.6" fill="url(#do)" opacity="0.77"/>
<circle cx="320.42" cy="476.83" r="0.8" fill="url(#do)" opacity="0.63"/>
<circle cx="315.91" cy="379.38" r="0.9" fill="url(#do)" opacity="0.41"/>
<circle cx="298.3" cy="456.41" r="0.8" fill="url(#do)" opacity="0.37"/>
<circle cx="322.39" cy="356.86" r="0.8" fill="url(#do)" opacity="0.63"/>
<circle cx="251.24" cy="364.9" r="0.8" fill="url(#do)" opacity="0.86"/>
<circle cx="273.51" cy="388.06" r="0.8" fill="url(#do)" opacity="0.52"/>
<circle cx="304.45" cy="432.38" r="0.8" fill="url(#do)" opacity="0.9"/>
<circle cx="226.71" cy="350.85" r="0.9" fill="url(#do)" opacity="0.37"/>
<circle cx="297.35" cy="392.48" r="0.8" fill="url(#do)" opacity="0.6"/>
<circle cx="258.45" cy="351.85" r="0.6" fill="url(#do)" opacity="0.79"/>
<circle cx="247.77" cy="373.2" r="0.7" fill="url(#do)" opacity="0.7"/>
<circle cx="303.14" cy="359.03" r="0.9" fill="url(#do)" opacity="0.56"/>
<circle cx="214.17" cy="403.31" r="0.7" fill="url(#do)" opacity="0.6"/>
<circle cx="328.91" cy="464.17" r="0.9" fill="url(#do)" opacity="0.88"/>
<circle cx="291.04" cy="388.8" r="0.8" fill="url(#do)" opacity="0.51"/>
<circle cx="256.26" cy="364.66" r="0.9" fill="url(#do)" opacity="0.8"/>
<circle cx="271.87" cy="369.29" r="0.9" fill="url(#do)" opacity="0.83"/>
<circle cx="228.97" cy="413.35" r="0.8" fill="url(#do)" opacity="0.38"/>
<circle cx="304.01" cy="394.15" r="0.6" fill="url(#do)" opacity="0.77"/>
<circle cx="251.34" cy="443.33" r="0.8" fill="url(#do)" opacity="0.81"/>
<circle cx="239.31" cy="482.31" r="0.8" fill="url(#do)" opacity="0.88"/>
<circle cx="248.49" cy="369.19" r="0.6" fill="url(#do)" opacity="0.61"/>
<circle cx="301.39" cy="389.95" r="0.8" fill="url(#do)" opacity="0.6"/>
<circle cx="306.63" cy="435.29" r="0.8" fill="url(#do)" opacity="0.54"/>
<circle cx="285.58" cy="448.03" r="0.9" fill="url(#do)" opacity="0.54"/>
<circle cx="309.83" cy="466.66" r="0.9" fill="url(#do)" opacity="0.89"/>
<circle cx="323.7" cy="417.06" r="0.7" fill="url(#do)" opacity="0.46"/>
<circle cx="251.17" cy="464.39" r="0.8" fill="url(#do)" opacity="0.73"/>
<circle cx="294.8" cy="446.98" r="0.7" fill="url(#do)" opacity="0.69"/>
<circle cx="321.22" cy="416.82" r="0.9" fill="url(#do)" opacity="0.52"/>
<circle cx="274.49" cy="466.27" r="0.8" fill="url(#do)" opacity="0.75"/>
<circle cx="210.37" cy="366.56" r="0.9" fill="url(#do)" opacity="0.69"/>
<circle cx="229.05" cy="451.02" r="0.7" fill="url(#do)" opacity="0.7"/>
<circle cx="212.11" cy="410.49" r="0.7" fill="url(#do)" opacity="0.44"/>
<circle cx="315.8" cy="359.63" r="0.7" fill="url(#do)" opacity="0.62"/>
<circle cx="273.9" cy="402.58" r="0.8" fill="url(#do)" opacity="0.56"/>
<circle cx="281.64" cy="427.21" r="0.7" fill="url(#do)" opacity="0.74"/>
<circle cx="252.63" cy="393.42" r="0.8" fill="url(#do)" opacity="0.82"/>
<circle cx="312.7" cy="441.13" r="0.8" fill="url(#do)" opacity="0.88"/>
<circle cx="274.09" cy="386.49" r="0.8" fill="url(#do)" opacity="0.65"/>
<circle cx="248.4" cy="425.91" r="0.8" fill="url(#do)" opacity="0.8"/>
<circle cx="258.13" cy="458.63" r="0.8" fill="url(#do)" opacity="0.61"/>
<circle cx="226.13" cy="397.97" r="0.9" fill="url(#do)" opacity="0.88"/>
<circle cx="325.1" cy="429.81" r="0.8" fill="url(#do)" opacity="0.8"/>
<circle cx="287.72" cy="397.84" r="0.8" fill="url(#do)" opacity="0.66"/>
<circle cx="282.05" cy="363.84" r="0.9" fill="url(#do)" opacity="0.59"/>
<circle cx="326.16" cy="413.57" r="0.9" fill="url(#do)" opacity="0.88"/>
<circle cx="253.33" cy="479.52" r="0.7" fill="url(#do)" opacity="0.68"/>
<circle cx="238.7" cy="482.32" r="0.9" fill="url(#do)" opacity="0.49"/>
<circle cx="209.4" cy="477.27" r="0.8" fill="url(#do)" opacity="0.62"/>
<circle cx="241.94" cy="411.25" r="0.6" fill="url(#do)" opacity="0.71"/>
<circle cx="324.22" cy="378.62" r="0.6" fill="url(#do)" opacity="0.78"/>
<circle cx="307.87" cy="345.86" r="0.8" fill="url(#do)" opacity="0.48"/>
<circle cx="264.86" cy="349.18" r="0.9" fill="url(#do)" opacity="0.5"/>
<circle cx="225.88" cy="483.42" r="0.8" fill="url(#do)" opacity="0.62"/>
<circle cx="328.08" cy="417.07" r="0.6" fill="url(#do)" opacity="0.36"/>
<circle cx="222.38" cy="383.81" r="0.8" fill="url(#do)" opacity="0.69"/>
<circle cx="296.22" cy="347.75" r="0.8" fill="url(#do)" opacity="0.55"/>
<circle cx="297.89" cy="427.3" r="0.6" fill="url(#do)" opacity="0.35"/>
<circle cx="274.49" cy="440.69" r="0.6" fill="url(#do)" opacity="0.84"/>
<circle cx="273.56" cy="346.05" r="0.9" fill="url(#do)" opacity="0.68"/>
<circle cx="291.06" cy="478.41" r="0.9" fill="url(#do)" opacity="0.82"/>
<circle cx="309.63" cy="411.08" r="0.7" fill="url(#do)" opacity="0.84"/>
<circle cx="263.74" cy="450.91" r="0.8" fill="url(#do)" opacity="0.81"/>
<circle cx="291.74" cy="405.03" r="0.8" fill="url(#do)" opacity="0.71"/>
<circle cx="264.64" cy="387.84" r="0.7" fill="url(#do)" opacity="0.61"/>
<circle cx="273.99" cy="414.17" r="0.8" fill="url(#do)" opacity="0.65"/>
<circle cx="258.92" cy="420.34" r="0.6" fill="url(#do)" opacity="0.39"/>
<circle cx="235.06" cy="459.56" r="0.6" fill="url(#do)" opacity="0.71"/>
<circle cx="210.12" cy="445.89" r="0.6" fill="url(#do)" opacity="0.9"/>
<circle cx="292.55" cy="350.89" r="0.6" fill="url(#do)" opacity="0.47"/>
<circle cx="285.78" cy="478.27" r="0.7" fill="url(#do)" opacity="0.9"/>
<circle cx="293.1" cy="405.75" r="0.7" fill="url(#do)" opacity="0.69"/>
<circle cx="257.5" cy="366.73" r="0.7" fill="url(#do)" opacity="0.37"/>
<circle cx="220.2" cy="397.47" r="0.6" fill="url(#do)" opacity="0.5"/>
<circle cx="276.67" cy="360.69" r="0.9" fill="url(#do)" opacity="0.83"/>
<circle cx="223.39" cy="404.87" r="0.8" fill="url(#do)" opacity="0.73"/>
<circle cx="266.71" cy="393.83" r="0.8" fill="url(#do)" opacity="0.85"/>
<circle cx="223.86" cy="385.56" r="0.8" fill="url(#do)" opacity="0.85"/>
<circle cx="274.7" cy="431.54" r="0.8" fill="url(#do)" opacity="0.38"/>
<circle cx="235.75" cy="461.4" r="0.8" fill="url(#do)" opacity="0.63"/>
<circle cx="223.32" cy="377.05" r="0.8" fill="url(#do)" opacity="0.6"/>
<circle cx="254.45" cy="362.5" r="0.6" fill="url(#do)" opacity="0.71"/>
<circle cx="217.4" cy="438.18" r="0.6" fill="url(#do)" opacity="0.82"/>
<circle cx="268.79" cy="407.94" r="0.9" fill="url(#do)" opacity="0.83"/>
<circle cx="265.62" cy="389.58" r="0.6" fill="url(#do)" opacity="0.65"/>
<circle cx="253.92" cy="463.6" r="0.9" fill="url(#do)" opacity="0.72"/>
<circle cx="234.22" cy="360.37" r="0.9" fill="url(#do)" opacity="0.8"/>
<circle cx="224.05" cy="432.1" r="0.8" fill="url(#do)" opacity="0.81"/>
<circle cx="242.36" cy="475.21" r="0.8" fill="url(#do)" opacity="0.79"/>
<circle cx="253.13" cy="445.9" r="0.8" fill="url(#do)" opacity="0.71"/>
<circle cx="305.15" cy="405.11" r="0.8" fill="url(#do)" opacity="0.63"/>
<circle cx="279.3" cy="424.83" r="0.7" fill="url(#do)" opacity="0.57"/>
<circle cx="231.69" cy="349.56" r="0.9" fill="url(#do)" opacity="0.71"/>
<circle cx="249.52" cy="404.21" r="0.8" fill="url(#do)" opacity="0.84"/>
<circle cx="282.57" cy="404.44" r="0.9" fill="url(#do)" opacity="0.6"/>
<circle cx="230.38" cy="436.12" r="0.6" fill="url(#do)" opacity="0.56"/>
<circle cx="254.05" cy="468.13" r="0.7" fill="url(#do)" opacity="0.65"/>
<circle cx="220.45" cy="459.4" r="0.8" fill="url(#do)" opacity="0.72"/>
<circle cx="211.04" cy="470.39" r="0.8" fill="url(#do)" opacity="0.86"/>
<circle cx="252.01" cy="476.25" r="0.6" fill="url(#do)" opacity="0.72"/>
<circle cx="264.55" cy="477.3" r="0.6" fill="url(#do)" opacity="0.78"/>
<circle cx="246.56" cy="408" r="0.7" fill="url(#do)" opacity="0.75"/>
<circle cx="226.91" cy="372.34" r="0.6" fill="url(#do)" opacity="0.67"/>
<circle cx="287.09" cy="431.08" r="0.8" fill="url(#do)" opacity="0.72"/>
<circle cx="229.51" cy="394.97" r="0.6" fill="url(#do)" opacity="0.75"/>
<circle cx="294.59" cy="367.03" r="0.7" fill="url(#do)" opacity="0.45"/>
<circle cx="232.47" cy="350.19" r="0.9" fill="url(#do)" opacity="0.75"/>
<circle cx="240.03" cy="409.13" r="0.9" fill="url(#do)" opacity="0.78"/>
<circle cx="257.04" cy="350.34" r="0.8" fill="url(#do)" opacity="0.87"/>
<circle cx="294.42" cy="377.42" r="0.9" fill="url(#do)" opacity="0.4"/>
<circle cx="264.49" cy="440.27" r="0.6" fill="url(#do)" opacity="0.62"/>
<circle cx="302.35" cy="350.75" r="0.9" fill="url(#do)" opacity="0.6"/>
<circle cx="285.14" cy="467.39" r="0.7" fill="url(#do)" opacity="0.45"/>
<circle cx="269.05" cy="400.73" r="0.7" fill="url(#do)" opacity="0.4"/>
<circle cx="245.29" cy="359.23" r="0.7" fill="url(#do)" opacity="0.68"/>
<circle cx="311.53" cy="374.23" r="0.6" fill="url(#do)" opacity="0.59"/>
<circle cx="250.63" cy="403.67" r="0.9" fill="url(#do)" opacity="0.64"/>
<circle cx="299.25" cy="441.09" r="0.7" fill="url(#do)" opacity="0.65"/>
<circle cx="223.92" cy="412.13" r="0.8" fill="url(#do)" opacity="0.8"/>
<circle cx="245.17" cy="362.3" r="0.6" fill="url(#do)" opacity="0.61"/>
<circle cx="292.06" cy="456.63" r="0.7" fill="url(#do)" opacity="0.5"/>
<circle cx="267.1" cy="379.08" r="0.7" fill="url(#do)" opacity="0.79"/>
<circle cx="314.68" cy="468.86" r="0.6" fill="url(#do)" opacity="0.58"/>
<circle cx="245.3" cy="450.08" r="0.6" fill="url(#do)" opacity="0.84"/>
<circle cx="286.8" cy="451.12" r="0.6" fill="url(#do)" opacity="0.59"/>
<circle cx="306.65" cy="436.42" r="0.6" fill="url(#do)" opacity="0.75"/>
<circle cx="292.54" cy="381.74" r="0.9" fill="url(#do)" opacity="0.66"/>
<circle cx="246.2" cy="387.21" r="0.7" fill="url(#do)" opacity="0.49"/>
<circle cx="289.46" cy="384.26" r="0.6" fill="url(#do)" opacity="0.65"/>
<circle cx="297.15" cy="347.93" r="0.6" fill="url(#do)" opacity="0.38"/>
<circle cx="222.87" cy="394.36" r="0.8" fill="url(#do)" opacity="0.87"/>
<circle cx="281.66" cy="376.58" r="0.9" fill="url(#do)" opacity="0.42"/>
<circle cx="231.54" cy="394.51" r="0.7" fill="url(#do)" opacity="0.67"/>
<circle cx="307.88" cy="446.48" r="0.6" fill="url(#do)" opacity="0.5"/>
<circle cx="280.92" cy="432.91" r="0.7" fill="url(#do)" opacity="0.6"/>
<circle cx="321.5" cy="456.06" r="0.6" fill="url(#do)" opacity="0.53"/>
<circle cx="261.39" cy="376.19" r="0.9" fill="url(#do)" opacity="0.44"/>
<circle cx="212.91" cy="438.19" r="0.7" fill="url(#do)" opacity="0.64"/>
<circle cx="325.3" cy="428.04" r="0.6" fill="url(#do)" opacity="0.42"/>
<circle cx="310.76" cy="440.66" r="0.7" fill="url(#do)" opacity="0.89"/>
<circle cx="211.01" cy="425.36" r="0.9" fill="url(#do)" opacity="0.74"/>
<circle cx="250.22" cy="409.45" r="0.7" fill="url(#do)" opacity="0.5"/>
<circle cx="231.54" cy="423.3" r="0.8" fill="url(#do)" opacity="0.77"/>
<circle cx="302.8" cy="395.7" r="0.7" fill="url(#do)" opacity="0.8"/>
<circle cx="287.9" cy="472.09" r="0.6" fill="url(#do)" opacity="0.69"/>
<circle cx="255.9" cy="364.17" r="0.7" fill="url(#do)" opacity="0.62"/>
<circle cx="211.6" cy="367.91" r="0.6" fill="url(#do)" opacity="0.76"/>
<circle cx="241.34" cy="473.84" r="0.8" fill="url(#do)" opacity="0.61"/>
<circle cx="264.36" cy="419.26" r="0.6" fill="url(#do)" opacity="0.79"/>
<circle cx="240.7" cy="376.8" r="1.75" fill="url(#dt)"/>
<circle cx="239.6" cy="378.6" r="1.25" fill="url(#dt)"/>
<circle cx="242" cy="375.4" r="1.12" fill="url(#dt)"/>
<circle cx="250.1" cy="379.8" r="1.25" fill="url(#dt)"/>
<circle cx="276" cy="363" r="1.12" fill="url(#dt)"/>
<circle cx="260.4" cy="365" r="1" fill="url(#dt)"/>
<circle cx="307.6" cy="363" r="1.5" fill="url(#dt)"/>
<circle cx="308.6" cy="361.4" r="1" fill="url(#dt)"/>
<circle cx="299.6" cy="367.1" r="1.25" fill="url(#dt)"/>
<circle cx="326.7" cy="363.6" r="1.12" fill="url(#dt)"/>
<circle cx="320.8" cy="376.8" r="1" fill="url(#dt)"/>
<circle cx="301.7" cy="382.7" r="1" fill="url(#dt)"/>
<circle cx="273.1" cy="381.3" r="1" fill="url(#dt)"/>
<circle cx="252.5" cy="404.2" r="1.25" fill="url(#dt)"/>
<circle cx="228" cy="411.6" r="1.25" fill="url(#dt)"/>
<circle cx="213.3" cy="410.7" r="1.25" fill="url(#dt)"/>
<circle cx="208.3" cy="409.8" r="1.12" fill="url(#dt)"/>
<circle cx="217.7" cy="409.3" r="1" fill="url(#dt)"/>
<circle cx="317.9" cy="417.2" r="1.25" fill="url(#dt)"/>
<circle cx="297.3" cy="425.5" r="1.12" fill="url(#dt)"/>
<circle cx="240.7" cy="435.2" r="1.62" fill="url(#dt)"/>
<circle cx="244.2" cy="433.4" r="1" fill="url(#dt)"/>
<circle cx="237.7" cy="444.6" r="1.25" fill="url(#dt)"/>
<circle cx="218.6" cy="450.5" r="1.62" fill="url(#dt)"/>
<circle cx="253.6" cy="443.2" r="1" fill="url(#dt)"/>
<circle cx="277.2" cy="441.1" r="1.12" fill="url(#dt)"/>
<circle cx="312.9" cy="448.5" r="1.5" fill="url(#dt)"/>
<circle cx="313.6" cy="450.6" r="1.12" fill="url(#dt)"/>
<circle cx="320.2" cy="451.4" r="1.25" fill="url(#dt)"/>
<circle cx="300.2" cy="446.1" r="1" fill="url(#dt)"/>
<circle cx="263.4" cy="466.7" r="1.25" fill="url(#dt)"/>
<circle cx="258.4" cy="477.9" r="1.12" fill="url(#dt)"/>
<circle cx="229.5" cy="477" r="1" fill="url(#dt)"/>
<circle cx="291.4" cy="450.5" r="1" fill="url(#dt)"/>
<circle cx="208.3" cy="368.6" r="1" fill="url(#dt)"/>
<circle cx="264.3" cy="351.2" r="0.88" fill="url(#dt)"/>
<circle cx="285.5" cy="353.3" r="0.88" fill="url(#dt)"/>
<circle cx="277.4" cy="381.4" r="1.12" fill="url(#dt)"/>
<circle cx="292" cy="353" r="0.88" fill="url(#dt)"/>
<circle cx="318" cy="417" r="1.38" fill="url(#dt)"/>
<circle cx="303.6" cy="420" r="1.12" fill="url(#dt)"/>
<circle cx="298.6" cy="425.6" r="1.25" fill="url(#dt)"/>
<circle cx="302.4" cy="427" r="1.12" fill="url(#dt)"/>
<circle cx="281" cy="414" r="1" fill="url(#dt)"/>
<circle cx="313" cy="448" r="1.62" fill="url(#dt)"/>
<circle cx="320" cy="451.6" r="1.25" fill="url(#dt)"/>
<circle cx="299.6" cy="445.6" r="1.12" fill="url(#dt)"/>
<circle cx="291.6" cy="449.6" r="1.12" fill="url(#dt)"/>
<circle cx="253" cy="442.4" r="1.12" fill="url(#dt)"/>
<circle cx="265" cy="426" r="1" fill="url(#dt)"/>
<circle cx="292" cy="436" r="1" fill="url(#dt)"/>
<circle cx="312" cy="479" r="1.12" fill="url(#dt)"/>
<circle cx="293.6" cy="481.6" r="1.12" fill="url(#dt)"/>
<circle cx="278.6" cy="474.4" r="1" fill="url(#dt)"/>
<circle cx="273" cy="470.4" r="1" fill="url(#dt)"/>
<circle cx="291" cy="468" r="1" fill="url(#dt)"/>
<circle cx="304.4" cy="414" r="1" fill="url(#dt)"/>
<circle cx="252" cy="405.6" r="1.12" fill="url(#dt)"/>
<circle cx="276.4" cy="442.4" r="1.25" fill="url(#dt)"/>
<circle cx="265" cy="466" r="1.25" fill="url(#dt)"/>
<circle cx="262" cy="473" r="1.12" fill="url(#dt)"/>
<text class="s" x="210.4" y="495.4" font-size="7.2" textLength="45.6" lengthAdjust="spacingAndGlyphs">Height Sensor</text>
<rect x="299.6" y="487.8" width="25.8" height="1.5" fill="#111"/>
<text class="s" x="297.4" y="495.6" font-size="7" textLength="30.6" lengthAdjust="spacingAndGlyphs">400.0 nm</text>
<rect x="348.4" y="378.1" width="7.2" height="71.6" fill="url(#cb)" stroke="#0a0a0a" stroke-width="1"/>
<text class="s" x="339.6" y="376" font-size="6.8" textLength="22.9" lengthAdjust="spacingAndGlyphs">3.3 nm</text>
<text class="s" x="335.4" y="458" font-size="6.8" textLength="30.6" lengthAdjust="spacingAndGlyphs">232.3 pm</text>
<text class="b" x="213" y="362.4" font-size="18.8">h</text>
</g>
<g id="pi">
<polyline points="392,450 394,459 395,463 396,460 399,470 401,460 402,461.4 404,455 406,457 409.6,448.6 411,457 412.4,410 414,421 415.6,457 416.4,460 418.4,440.6 420,457 421.6,456 423,461 425,449 426.6,380 427.4,349.4 428.6,362 430.4,420 432,457 434.4,449 437.4,469 440.4,451 442,457.6 444,452 445.4,410 446.4,354 447.2,405 448,442 449.8,466.6 451.4,458.6 453.6,460.4 455.6,474.6 458,461 460,460.6 462,452 463.6,457 465,452.8 467,456 469,454 471,459 472,454 474,463 475.4,463 476.6,420 477.4,376 478.4,418 480,441 482.4,458 484,450 486.4,459 489,454 491.4,450 493,461 495.6,475 499,457 500.6,460 505,446 506,457 508,415 509,381.4 510.2,425 512,456 514,454 517,451 518,454 519.4,420 520.6,447 522,443 524,458 526.4,450 528.4,469 530,442 531.6,454 532.6,448 535,461 537.4,471 538.6,451 540,459 541,455" fill="none" stroke="#ffbcbc" stroke-width="0.6" stroke-linejoin="round"/>
<rect x="391.6" y="349.1" width="149.5" height="135.4" fill="none" stroke="#161616" stroke-width="1.5"/>
<text class="r" x="389.2" y="351.01" font-size="7" letter-spacing="0.3" text-anchor="end">2.0</text>
<path d="M391.6 376.18h2.4" stroke="#111" stroke-width="1.1"/>
<text class="r" x="389.2" y="378.09" font-size="7" letter-spacing="0.3" text-anchor="end">1.5</text>
<path d="M391.6 403.26h2.4" stroke="#111" stroke-width="1.1"/>
<text class="r" x="389.2" y="405.17" font-size="7" letter-spacing="0.3" text-anchor="end">1.0</text>
<path d="M391.6 430.34h2.4" stroke="#111" stroke-width="1.1"/>
<text class="r" x="389.2" y="432.25" font-size="7" letter-spacing="0.3" text-anchor="end">0.5</text>
<path d="M391.6 457.42h2.4" stroke="#111" stroke-width="1.1"/>
<text class="r" x="389.2" y="459.33" font-size="7" letter-spacing="0.3" text-anchor="end">0.0</text>
<text class="r" x="389.2" y="486.41" font-size="7" letter-spacing="0.3" text-anchor="end">-0.5</text>
<text class="r" x="391.6" y="491.91" font-size="7" letter-spacing="0.3" text-anchor="middle">0</text>
<path d="M424.8 484.5v-2.4" stroke="#111" stroke-width="1.1"/>
<text class="r" x="424.8" y="491.91" font-size="7" letter-spacing="0.3" text-anchor="middle">200</text>
<path d="M458 484.5v-2.4" stroke="#111" stroke-width="1.1"/>
<text class="r" x="458" y="491.91" font-size="7" letter-spacing="0.3" text-anchor="middle">400</text>
<path d="M491.2 484.5v-2.4" stroke="#111" stroke-width="1.1"/>
<text class="r" x="491.2" y="491.91" font-size="7" letter-spacing="0.3" text-anchor="middle">600</text>
<path d="M524.4 484.5v-2.4" stroke="#111" stroke-width="1.1"/>
<text class="r" x="524.4" y="491.91" font-size="7" letter-spacing="0.3" text-anchor="middle">800</text>
<text class="r" x="466.4" y="503.64" font-size="6.8" letter-spacing="0.3" text-anchor="middle">nm</text>
<text class="r" font-size="6.8" text-anchor="middle" transform="translate(371.2 413) rotate(-90)">nm</text>
<text class="b" x="399.8" y="366.2" font-size="18.8">i</text>
</g>
</svg>
</body></html>
